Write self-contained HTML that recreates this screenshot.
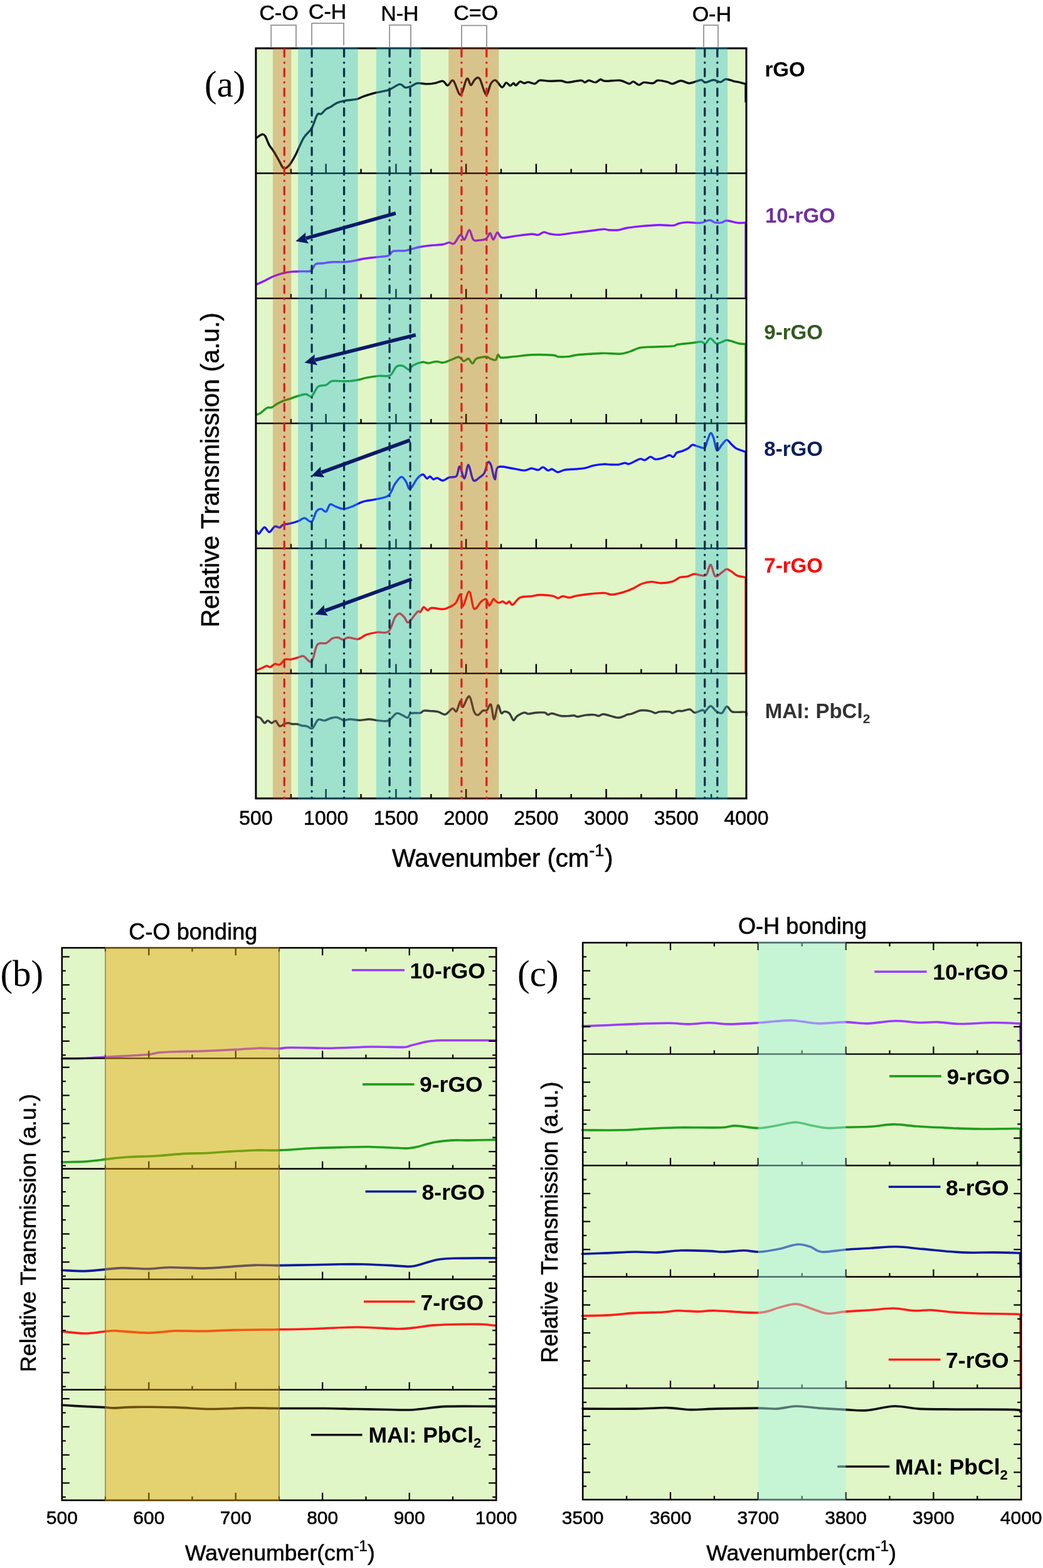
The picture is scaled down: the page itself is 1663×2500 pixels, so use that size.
<!DOCTYPE html>
<html><head><meta charset="utf-8"><title>FTIR spectra</title>
<style>html,body{margin:0;padding:0;background:#fff;} svg{display:block;}</style></head>
<body><svg width="1663" height="2500" viewBox="0 0 1663 2500">
<rect width="1663" height="2500" fill="#fff"/>
<rect x="408.0" y="77.0" width="782.0" height="1196.0" fill="#e1f6c6" />
<path d="M408.9,219.9 C410.4,219.0 415.5,214.7 417.9,214.3 C420.2,213.9 421.1,214.5 423.0,217.3 C424.9,220.2 427.2,227.6 429.3,231.4 C431.4,235.2 433.1,236.3 435.7,240.3 C438.2,244.3 441.8,250.9 444.6,255.6 C447.4,260.3 449.5,267.1 452.3,268.4 C455.1,269.7 458.0,266.9 461.2,263.3 C464.4,259.7 467.6,253.9 471.4,246.7 C475.2,239.5 479.9,226.9 484.2,219.9 C488.4,212.9 493.3,210.8 496.9,204.6 C500.5,198.4 503.3,186.7 505.9,182.9 C508.4,179.1 509.9,183.1 512.2,181.6 C514.5,180.1 517.3,175.9 519.9,174.0 C522.5,172.1 524.6,171.9 527.6,170.2 C530.6,168.5 533.5,165.5 537.8,163.8 C542.0,162.1 548.0,160.9 553.1,160.0 C558.2,159.1 564.1,159.2 568.4,158.2 C572.6,157.2 573.9,155.7 578.6,154.1 C583.3,152.5 589.6,150.3 596.4,148.5 C603.2,146.7 612.6,145.8 619.4,143.4 C626.2,141.1 632.7,135.1 637.2,134.4 C641.7,133.8 643.2,138.9 646.2,139.5 C649.2,140.1 651.9,138.9 655.1,137.8 C658.3,136.7 661.0,133.3 665.3,132.7 C669.5,132.0 675.9,133.9 680.6,133.9 C685.3,133.9 689.1,133.5 693.4,132.7 C697.6,131.9 702.7,128.7 706.1,129.3 C709.5,129.9 711.0,136.3 713.8,136.2 C716.6,136.1 719.3,126.1 722.7,128.6 C726.1,131.1 730.6,151.5 734.2,151.0 C737.8,150.5 741.6,128.1 744.4,125.5 C747.2,123.0 748.7,135.5 750.8,135.7 C752.9,135.9 754.8,128.5 757.1,126.8 C759.4,125.1 761.8,121.5 764.8,125.5 C767.8,129.5 772.0,149.7 775.0,151.0 C778.0,152.3 780.2,137.0 782.7,133.2 C785.2,129.4 787.3,127.1 790.3,128.1 C793.3,129.1 797.7,138.6 800.5,139.2 C803.3,139.8 804.8,132.3 807.0,131.9 C809.2,131.5 811.5,136.5 813.5,136.6 C815.5,136.7 817.3,132.8 818.8,132.7 C820.3,132.6 821.0,136.5 822.7,136.1 C824.4,135.7 827.0,130.7 829.2,130.1 C831.4,129.5 833.6,132.6 835.8,132.7 C838.0,132.8 839.5,130.8 842.3,130.9 C845.1,131.0 849.8,133.9 852.8,133.5 C855.8,133.1 856.7,128.9 860.6,128.2 C864.5,127.5 870.6,129.2 876.3,129.3 C882.0,129.4 889.8,128.5 894.6,128.8 C899.4,129.2 899.9,131.5 905.1,131.4 C910.3,131.3 921.4,128.2 926.0,128.2 C930.6,128.2 930.3,131.4 932.5,131.4 C934.7,131.4 936.2,128.2 939.0,128.2 C941.8,128.2 946.4,131.7 949.5,131.4 C952.6,131.2 954.8,127.0 957.4,126.7 C960.0,126.4 960.0,129.1 965.2,129.3 C970.4,129.6 982.4,127.5 988.7,128.2 C995.0,128.9 999.6,133.2 1003.1,133.5 C1006.6,133.8 1007.1,129.8 1009.7,130.1 C1012.3,130.4 1016.0,135.1 1018.8,135.3 C1021.6,135.5 1023.0,131.8 1026.7,131.4 C1030.4,131.0 1037.3,133.2 1041.0,132.7 C1044.7,132.2 1045.0,128.5 1048.9,128.2 C1052.8,127.9 1060.7,130.0 1064.6,130.9 C1068.5,131.8 1068.9,133.8 1072.4,133.5 C1075.9,133.2 1081.1,128.9 1085.5,128.8 C1089.9,128.7 1094.7,132.5 1098.6,132.7 C1102.5,132.9 1105.7,131.0 1109.0,130.1 C1112.3,129.2 1115.6,127.3 1118.2,127.5 C1120.8,127.7 1121.4,131.4 1124.7,131.4 C1128.0,131.4 1133.9,127.6 1137.8,127.5 C1141.7,127.4 1145.0,131.1 1148.3,130.9 C1151.6,130.7 1153.9,126.5 1157.4,126.2 C1160.9,125.9 1165.5,128.4 1169.2,129.3 C1172.9,130.2 1176.3,130.6 1179.6,131.4 C1182.9,132.2 1187.4,133.6 1189.0,134.0 L1189.0,162.0" fill="none" stroke="#101010" stroke-width="3.4" stroke-linejoin="round" stroke-linecap="round" />
<path d="M408.9,453.5 C410.8,452.6 415.9,450.5 420.4,448.4 C424.9,446.3 430.6,442.8 435.7,440.7 C440.8,438.6 445.9,436.9 451.0,435.6 C456.1,434.3 460.8,433.6 466.3,433.1 C471.8,432.6 479.3,432.8 484.2,432.6 C489.1,432.4 492.5,433.7 495.7,431.8 C498.9,429.9 500.1,423.1 503.3,421.1 C506.5,419.1 510.3,420.4 514.8,419.8 C519.3,419.2 524.6,418.1 530.1,417.8 C535.6,417.5 542.5,418.1 548.0,417.8 C553.5,417.5 558.2,416.9 563.3,416.0 C568.4,415.1 572.6,413.7 578.6,412.7 C584.6,411.7 592.2,411.0 599.0,410.1 C605.8,409.2 614.7,409.2 619.4,407.6 C624.1,406.0 622.8,401.7 627.0,400.4 C631.2,399.1 640.2,400.4 644.9,399.9 C649.6,399.4 650.9,398.4 655.1,397.3 C659.4,396.2 665.3,394.5 670.4,393.5 C675.5,392.5 679.8,392.1 685.7,391.5 C691.7,390.9 701.0,390.5 706.1,389.7 C711.2,388.9 713.3,386.8 716.3,386.6 C719.3,386.4 721.0,390.4 724.0,388.4 C727.0,386.4 731.4,375.5 734.2,374.4 C737.0,373.3 738.3,383.3 740.6,382.0 C742.9,380.7 745.9,366.7 748.2,366.7 C750.5,366.7 752.3,379.2 754.6,382.0 C756.9,384.8 758.8,383.5 762.2,383.3 C765.6,383.1 771.8,382.7 775.0,380.8 C778.2,378.9 779.5,371.6 781.4,371.8 C783.3,372.0 784.5,382.2 786.5,382.0 C788.5,381.8 790.8,371.1 793.1,370.6 C795.4,370.1 795.8,378.0 800.5,379.0 C805.2,380.0 813.6,377.4 821.4,376.4 C829.2,375.4 841.4,373.5 847.5,373.2 C853.6,372.9 854.7,375.0 858.0,374.5 C861.3,374.0 864.1,370.4 867.1,370.1 C870.1,369.8 872.1,372.0 876.3,372.7 C880.4,373.4 885.5,374.6 892.0,374.3 C898.5,374.0 907.2,372.2 915.5,371.1 C923.8,370.1 933.9,368.9 941.7,368.0 C949.6,367.1 957.8,365.6 962.6,365.4 C967.4,365.2 966.5,366.5 970.4,366.7 C974.3,366.9 981.3,367.2 986.1,366.7 C990.9,366.2 993.5,364.5 999.2,363.5 C1004.9,362.5 1011.4,361.7 1020.1,360.9 C1028.8,360.1 1042.8,359.0 1051.5,358.8 C1060.2,358.6 1067.2,360.0 1072.4,359.6 C1077.6,359.2 1079.0,357.1 1082.9,356.2 C1086.8,355.3 1091.7,354.5 1096.0,354.4 C1100.3,354.3 1105.1,355.3 1109.0,355.4 C1112.9,355.5 1115.8,355.6 1119.5,354.9 C1123.2,354.2 1127.8,351.0 1131.3,351.0 C1134.8,351.0 1137.1,354.2 1140.4,354.9 C1143.7,355.5 1147.9,355.4 1150.9,354.9 C1154.0,354.4 1154.4,351.7 1158.7,351.8 C1163.0,351.9 1172.0,354.9 1177.0,355.4 C1182.0,355.9 1187.0,355.0 1189.0,354.9 L1189.0,475.0" fill="none" stroke="#8a1cff" stroke-width="3.4" stroke-linejoin="round" stroke-linecap="round" />
<path d="M408.9,661.1 C410.0,660.7 412.5,660.4 415.3,658.6 C418.1,656.8 422.5,651.9 425.5,650.4 C428.5,648.9 430.6,650.6 433.2,649.6 C435.8,648.6 437.8,646.2 440.8,644.5 C443.8,642.8 447.6,640.8 451.0,639.4 C454.4,638.0 456.9,637.5 461.2,636.1 C465.4,634.7 472.0,632.3 476.5,631.0 C481.0,629.7 484.6,628.4 488.0,628.5 C491.4,628.6 493.7,633.8 496.9,631.8 C500.1,629.8 503.3,619.5 507.1,616.5 C510.9,613.5 516.3,615.4 519.9,613.9 C523.5,612.4 525.0,608.6 528.8,607.6 C532.6,606.6 538.0,607.6 542.9,607.6 C547.8,607.6 553.1,608.0 558.2,607.6 C563.3,607.2 569.2,605.9 573.5,605.0 C577.8,604.1 578.6,603.3 583.7,602.4 C588.8,601.5 597.7,600.0 604.1,599.4 C610.5,598.8 617.2,601.1 621.9,598.6 C626.6,596.1 628.7,587.2 632.1,584.6 C635.5,582.0 638.9,582.4 642.3,583.3 C645.7,584.1 650.0,589.7 652.6,589.7 C655.2,589.7 654.3,585.3 657.7,583.3 C661.1,581.2 668.8,578.1 673.0,577.4 C677.2,576.7 679.4,579.2 683.2,579.0 C687.0,578.8 692.1,576.5 695.9,576.4 C699.7,576.3 702.3,578.6 706.1,578.2 C709.9,577.8 714.6,575.4 718.9,573.9 C723.1,572.4 728.2,569.0 731.6,569.3 C735.0,569.6 736.8,575.3 739.3,575.7 C741.8,576.1 744.6,571.2 746.9,571.8 C749.2,572.4 751.2,579.5 753.3,579.5 C755.4,579.5 756.1,573.6 759.7,571.8 C763.3,570.0 771.2,568.7 775.0,568.8 C778.8,568.9 780.2,571.4 782.7,572.3 C785.2,573.1 788.4,575.0 790.3,573.9 C792.2,572.8 792.6,566.1 794.1,565.5 C795.6,564.9 794.7,569.7 799.2,570.2 C803.8,570.7 813.4,569.1 821.4,568.4 C829.4,567.7 837.5,566.1 847.5,565.8 C857.5,565.4 874.3,565.8 881.5,566.3 C888.7,566.8 886.3,568.5 890.7,568.9 C895.1,569.2 902.7,568.9 907.7,568.4 C912.7,567.9 912.1,566.7 920.8,565.8 C929.5,564.9 948.7,563.5 960.0,563.2 C971.3,562.9 981.3,564.7 988.7,564.2 C996.1,563.8 999.2,562.1 1004.4,560.5 C1009.6,558.9 1014.4,555.7 1020.1,554.5 C1025.8,553.3 1029.7,553.6 1038.4,553.2 C1047.1,552.8 1065.4,552.5 1072.4,551.9 C1079.4,551.2 1075.1,550.2 1080.3,549.3 C1085.5,548.4 1097.5,547.4 1103.8,546.7 C1110.1,546.0 1114.7,544.7 1118.2,544.9 C1121.7,545.1 1122.3,548.9 1124.7,548.0 C1127.1,547.1 1129.8,539.7 1132.6,539.6 C1135.4,539.5 1138.7,546.5 1141.7,547.5 C1144.8,548.5 1148.1,546.3 1150.9,545.4 C1153.7,544.5 1155.7,542.3 1158.7,542.2 C1161.8,542.1 1165.7,543.9 1169.2,544.9 C1172.7,545.9 1176.3,547.4 1179.6,548.0 C1182.9,548.6 1187.4,548.4 1189.0,548.5 L1189.0,674.0" fill="none" stroke="#1d9a1d" stroke-width="3.4" stroke-linejoin="round" stroke-linecap="round" />
<path d="M408.9,845.8 C409.5,846.6 410.7,851.8 412.8,850.9 C414.9,850.0 418.9,841.1 421.7,840.7 C424.4,840.3 426.5,848.6 429.3,848.4 C432.1,848.2 435.5,840.6 438.3,839.4 C441.1,838.2 443.8,841.6 445.9,841.2 C448.0,840.8 448.0,838.0 451.0,836.9 C454.0,835.8 459.6,835.4 463.8,834.3 C468.1,833.2 472.9,831.9 476.5,830.5 C480.1,829.1 482.1,825.7 485.5,825.9 C488.9,826.1 493.7,833.6 496.9,831.8 C500.1,830.0 502.1,818.6 504.6,815.2 C507.2,811.8 509.7,811.3 512.2,811.4 C514.8,811.5 517.5,816.9 519.9,815.7 C522.2,814.5 523.8,805.6 526.3,804.2 C528.8,802.9 531.6,806.4 535.2,807.6 C538.8,808.8 543.3,811.5 548.0,811.4 C552.7,811.3 558.2,808.7 563.3,806.8 C568.4,804.9 572.6,801.7 578.6,799.9 C584.6,798.1 592.2,797.7 599.0,796.1 C605.8,794.5 614.3,794.2 619.4,790.2 C624.5,786.2 626.2,776.8 629.6,771.8 C633.0,766.8 636.8,761.0 639.8,760.4 C642.8,759.8 645.1,764.8 647.4,768.0 C649.7,771.2 650.8,780.4 653.8,779.5 C656.8,778.6 661.9,766.7 665.3,762.9 C668.7,759.1 671.7,756.5 674.2,756.5 C676.8,756.5 678.7,762.4 680.6,762.9 C682.5,763.4 684.0,759.4 685.7,759.6 C687.4,759.8 688.9,763.8 690.8,764.2 C692.7,764.6 694.7,761.8 697.2,762.1 C699.8,762.4 702.9,766.4 706.1,766.2 C709.3,766.0 712.7,762.3 716.3,761.1 C719.9,759.9 725.0,762.0 727.8,759.1 C730.6,756.2 730.8,743.2 732.9,743.8 C735.0,744.4 738.3,763.3 740.6,762.9 C742.9,762.5 744.6,740.8 746.9,741.2 C749.2,741.6 751.6,762.2 754.6,765.5 C757.6,768.8 761.8,763.0 764.8,761.1 C767.8,759.2 770.3,758.0 772.4,754.0 C774.5,750.0 775.9,739.5 777.6,737.4 C779.3,735.3 780.8,736.7 782.7,741.2 C784.6,745.7 787.1,763.6 789.0,764.2 C790.9,764.8 789.4,747.8 793.9,744.9 C798.4,742.0 809.2,745.8 816.2,746.7 C823.2,747.6 830.6,750.1 835.8,750.1 C841.0,750.1 843.8,746.8 847.5,746.7 C851.2,746.6 855.0,749.6 858.0,749.3 C861.0,749.0 863.2,744.8 865.8,744.9 C868.4,745.0 871.3,749.6 873.7,750.1 C876.1,750.6 877.6,747.6 880.2,748.0 C882.8,748.4 886.1,752.5 889.4,752.7 C892.7,752.9 895.4,750.1 899.8,749.3 C904.1,748.5 910.3,748.4 915.5,748.0 C920.7,747.6 926.0,747.7 931.2,746.7 C936.4,745.7 941.7,743.3 946.9,742.2 C952.1,741.1 958.2,740.4 962.6,740.1 C967.0,739.9 969.2,740.6 973.1,740.7 C977.0,740.8 982.2,741.1 986.1,740.7 C990.0,740.3 993.8,738.3 996.6,738.1 C999.4,737.9 999.2,740.7 1003.1,739.6 C1007.0,738.5 1016.0,732.8 1020.1,731.8 C1024.2,730.8 1025.2,734.2 1028.0,733.6 C1030.8,733.0 1034.3,728.6 1037.1,728.4 C1039.9,728.2 1041.7,732.0 1045.0,732.3 C1048.3,732.6 1053.0,731.3 1056.7,730.2 C1060.4,729.1 1064.4,726.1 1067.2,725.8 C1070.0,725.5 1071.7,729.1 1073.7,728.4 C1075.7,727.7 1076.6,723.3 1079.0,721.8 C1081.4,720.3 1085.0,720.4 1088.1,719.2 C1091.1,718.0 1094.7,716.4 1097.3,714.8 C1099.9,713.1 1101.4,709.9 1103.8,709.3 C1106.2,708.7 1108.4,710.6 1111.7,711.4 C1115.0,712.2 1120.7,715.6 1123.4,714.0 C1126.1,712.4 1126.4,705.9 1128.0,702.0 C1129.6,698.1 1131.5,691.1 1133.1,690.5 C1134.7,689.9 1136.1,693.7 1137.8,698.3 C1139.5,702.9 1140.8,716.1 1143.0,717.9 C1145.2,719.7 1148.3,712.0 1150.9,709.3 C1153.5,706.5 1156.1,701.5 1158.7,701.4 C1161.3,701.3 1164.0,706.5 1166.6,708.8 C1169.2,711.1 1170.7,713.3 1174.4,715.3 C1178.1,717.2 1186.6,719.6 1189.0,720.5 L1189.0,874.0" fill="none" stroke="#1414ff" stroke-width="3.4" stroke-linejoin="round" stroke-linecap="round" />
<path d="M408.9,1068.8 C410.4,1068.2 415.1,1066.2 417.9,1065.0 C420.7,1063.8 423.4,1061.8 425.5,1061.6 C427.6,1061.4 428.5,1064.2 430.6,1063.7 C432.7,1063.2 435.8,1059.2 438.3,1058.6 C440.9,1057.9 443.1,1061.0 445.9,1059.8 C448.6,1058.6 451.8,1052.8 454.8,1051.4 C457.8,1050.0 460.2,1052.0 463.8,1051.4 C467.4,1050.8 473.1,1048.8 476.5,1047.9 C479.9,1047.1 480.8,1045.2 484.2,1046.3 C487.6,1047.4 493.3,1057.8 496.9,1054.7 C500.5,1051.7 502.1,1032.9 505.9,1028.0 C509.7,1023.1 515.9,1027.1 519.9,1025.4 C523.9,1023.7 526.9,1019.3 530.1,1017.8 C533.3,1016.3 536.2,1016.2 539.0,1016.5 C541.8,1016.8 543.9,1019.8 546.7,1019.8 C549.5,1019.8 551.6,1016.6 555.6,1016.5 C559.6,1016.4 566.2,1019.7 570.9,1019.0 C575.6,1018.3 578.6,1013.9 583.7,1012.1 C588.8,1010.3 595.5,1009.0 601.5,1008.1 C607.5,1007.2 614.7,1010.9 619.4,1007.0 C624.1,1003.1 626.6,989.4 629.6,984.6 C632.6,979.8 634.7,978.2 637.2,978.2 C639.8,978.2 642.5,982.3 644.9,984.6 C647.2,986.9 647.9,993.7 651.3,992.2 C654.7,990.7 662.1,978.5 665.3,975.7 C668.5,973.0 668.7,977.0 670.4,975.7 C672.1,974.4 673.6,968.4 675.5,968.0 C677.4,967.6 679.8,972.9 681.9,973.1 C684.0,973.3 684.3,969.6 688.3,969.3 C692.3,969.0 701.4,971.5 706.1,971.3 C710.8,971.1 712.9,969.6 716.3,968.0 C719.7,966.4 723.5,965.0 726.5,961.6 C729.5,958.2 732.3,946.8 734.2,947.6 C736.1,948.5 735.7,967.4 738.0,966.7 C740.3,966.0 745.2,942.6 748.2,943.3 C751.2,943.9 752.7,968.0 755.9,970.6 C759.1,973.2 764.1,961.7 767.3,959.1 C770.5,956.5 772.9,954.2 775.0,955.3 C777.1,956.4 778.2,965.5 780.1,965.5 C782.0,965.5 784.9,956.6 786.5,955.3 C788.1,954.0 788.5,956.9 790.0,957.9 C791.5,958.9 793.2,960.9 795.2,961.1 C797.2,961.3 799.8,958.8 801.8,959.0 C803.8,959.2 805.3,962.4 807.0,962.4 C808.7,962.4 810.5,958.7 812.2,959.0 C814.0,959.3 814.7,965.2 817.5,964.2 C820.3,963.2 824.2,955.0 829.2,952.7 C834.2,950.4 842.3,951.3 847.5,950.6 C852.7,949.9 854.9,948.6 860.6,948.5 C866.3,948.4 876.7,949.2 881.5,950.1 C886.3,951.0 886.8,953.6 889.4,953.7 C892.0,953.8 894.2,950.8 897.2,950.6 C900.2,950.4 904.2,952.8 907.7,952.7 C911.2,952.6 913.3,951.0 918.1,950.1 C922.9,949.2 929.0,948.3 936.4,947.5 C943.8,946.7 956.0,945.3 962.6,945.4 C969.2,945.5 970.5,948.2 975.7,948.0 C980.9,947.8 988.3,945.8 994.0,944.1 C999.7,942.5 1004.9,940.3 1009.7,938.1 C1014.5,935.9 1017.9,932.8 1022.7,931.0 C1027.5,929.2 1033.2,927.8 1038.4,927.6 C1043.6,927.4 1048.4,929.8 1054.1,929.7 C1059.8,929.6 1067.4,928.6 1072.4,927.1 C1077.4,925.6 1080.3,921.8 1084.2,920.5 C1088.1,919.2 1092.3,920.1 1096.0,919.2 C1099.7,918.3 1102.9,915.6 1106.4,915.3 C1109.9,914.9 1113.6,916.9 1116.9,917.1 C1120.2,917.3 1123.3,919.4 1126.0,916.6 C1128.7,913.8 1130.7,900.0 1133.1,900.4 C1135.5,900.8 1137.4,916.7 1140.4,918.7 C1143.4,920.8 1147.9,914.6 1150.9,912.7 C1154.0,910.8 1156.1,907.7 1158.7,907.5 C1161.3,907.3 1163.8,909.7 1166.6,911.4 C1169.4,913.1 1172.0,916.4 1175.7,917.9 C1179.4,919.4 1186.8,920.1 1189.0,920.5 L1189.0,1073.0" fill="none" stroke="#ff1414" stroke-width="3.4" stroke-linejoin="round" stroke-linecap="round" />
<path d="M408.9,1142.5 C410.0,1142.9 413.2,1143.3 415.3,1145.0 C417.4,1146.7 419.8,1152.0 421.7,1152.7 C423.6,1153.4 424.9,1148.9 426.8,1148.9 C428.7,1148.9 431.1,1152.6 433.2,1152.7 C435.3,1152.8 437.4,1148.6 439.5,1149.4 C441.6,1150.2 443.5,1157.0 445.9,1157.8 C448.2,1158.6 451.3,1154.8 453.6,1154.0 C455.9,1153.2 457.8,1152.6 459.9,1152.7 C462.0,1152.8 463.9,1154.2 466.3,1154.5 C468.7,1154.8 471.4,1154.1 474.0,1154.5 C476.6,1154.9 479.1,1156.5 481.6,1157.0 C484.2,1157.5 486.5,1157.1 489.3,1157.8 C492.1,1158.5 495.2,1162.8 498.2,1161.1 C501.2,1159.4 503.9,1149.6 507.1,1147.6 C510.3,1145.6 513.9,1149.3 517.3,1148.9 C520.7,1148.5 524.2,1145.8 527.6,1145.0 C531.0,1144.2 534.4,1143.2 537.8,1143.8 C541.2,1144.4 544.6,1147.9 548.0,1148.4 C551.4,1148.9 554.0,1146.8 558.2,1146.8 C562.5,1146.8 568.4,1148.4 573.5,1148.4 C578.6,1148.4 583.7,1146.7 588.8,1146.8 C593.9,1146.9 599.0,1148.6 604.1,1148.9 C609.2,1149.2 614.7,1150.8 619.4,1148.9 C624.1,1147.0 628.3,1138.8 632.1,1137.4 C635.9,1136.0 639.3,1139.6 642.3,1140.7 C645.3,1141.8 647.9,1144.8 650.0,1144.3 C652.1,1143.8 651.7,1138.7 655.1,1137.4 C658.5,1136.1 667.0,1137.3 670.4,1136.6 C673.8,1135.9 673.0,1133.6 675.5,1133.1 C678.0,1132.6 681.9,1133.3 685.7,1133.6 C689.5,1133.9 694.5,1133.9 698.5,1134.8 C702.5,1135.7 706.1,1140.0 709.9,1139.2 C713.7,1138.4 718.4,1130.6 721.4,1129.7 C724.4,1128.8 725.7,1136.1 727.8,1134.1 C729.9,1132.1 732.5,1118.9 734.2,1117.8 C735.9,1116.7 735.7,1128.5 738.0,1127.2 C740.3,1125.9 745.2,1108.8 748.2,1110.1 C751.2,1111.4 753.6,1129.8 755.9,1134.8 C758.2,1139.8 759.9,1140.3 762.2,1140.0 C764.5,1139.7 767.5,1134.4 769.9,1133.1 C772.2,1131.8 774.2,1133.9 776.3,1132.3 C778.4,1130.7 780.8,1121.0 782.7,1123.4 C784.6,1125.8 785.9,1146.6 787.8,1146.8 C789.7,1147.0 792.0,1126.1 793.9,1124.5 C795.8,1122.9 797.5,1135.3 799.2,1137.0 C801.0,1138.7 802.2,1134.3 804.4,1134.4 C806.6,1134.5 809.8,1135.2 812.2,1137.5 C814.6,1139.8 816.8,1147.7 818.8,1148.5 C820.8,1149.3 821.2,1144.2 824.0,1142.2 C826.8,1140.2 832.8,1136.9 835.8,1136.2 C838.8,1135.5 839.0,1138.1 842.3,1138.1 C845.6,1138.1 851.0,1136.5 855.4,1136.2 C859.8,1135.9 865.5,1135.6 868.5,1136.2 C871.5,1136.8 871.8,1139.4 873.7,1139.6 C875.7,1139.8 876.7,1137.2 880.2,1137.5 C883.7,1137.8 890.0,1140.8 894.6,1141.5 C899.2,1142.2 904.2,1141.6 907.7,1141.5 C911.2,1141.4 913.3,1140.5 915.5,1140.7 C917.7,1140.9 917.8,1142.9 920.8,1142.8 C923.8,1142.7 929.4,1140.6 933.8,1140.1 C938.1,1139.6 943.4,1139.4 946.9,1139.6 C950.4,1139.8 952.1,1141.6 954.7,1141.5 C957.3,1141.4 957.8,1138.4 962.6,1138.8 C967.4,1139.2 978.3,1143.5 983.5,1144.1 C988.7,1144.7 991.4,1143.0 994.0,1142.2 C996.6,1141.5 997.0,1140.3 999.2,1139.6 C1001.4,1138.9 1003.3,1139.2 1007.0,1138.1 C1010.7,1137.0 1016.6,1133.5 1021.4,1132.8 C1026.2,1132.0 1031.9,1132.9 1035.8,1133.6 C1039.7,1134.3 1042.4,1136.8 1045.0,1137.0 C1047.6,1137.2 1047.8,1135.2 1051.5,1134.9 C1055.2,1134.6 1063.7,1134.6 1067.2,1134.9 C1070.7,1135.2 1070.2,1137.2 1072.4,1137.0 C1074.6,1136.8 1077.7,1134.2 1080.3,1133.6 C1082.9,1133.0 1084.8,1134.0 1088.1,1133.6 C1091.4,1133.2 1096.6,1130.6 1099.9,1131.0 C1103.2,1131.4 1104.4,1136.0 1107.7,1136.2 C1111.0,1136.4 1116.7,1132.7 1119.5,1132.3 C1122.3,1131.9 1122.4,1134.7 1124.7,1133.6 C1127.0,1132.5 1130.3,1125.8 1133.1,1125.8 C1135.9,1125.8 1138.7,1131.7 1141.7,1133.6 C1144.7,1135.5 1148.1,1138.2 1150.9,1137.0 C1153.7,1135.8 1156.1,1126.9 1158.7,1126.5 C1161.3,1126.1 1163.8,1132.9 1166.6,1134.4 C1169.4,1135.9 1172.0,1135.2 1175.7,1135.4 C1179.4,1135.6 1186.6,1134.5 1189.0,1135.4 C1191.4,1136.3 1189.8,1140.1 1190.0,1141.0" fill="none" stroke="#3c3c3c" stroke-width="3.4" stroke-linejoin="round" stroke-linecap="round" />
<line x1="408.0" y1="276.3" x2="1190.0" y2="276.3" stroke="#000" stroke-width="2.6" />
<line x1="408.0" y1="475.7" x2="1190.0" y2="475.7" stroke="#000" stroke-width="2.6" />
<line x1="408.0" y1="675.0" x2="1190.0" y2="675.0" stroke="#000" stroke-width="2.6" />
<line x1="408.0" y1="874.3" x2="1190.0" y2="874.3" stroke="#000" stroke-width="2.6" />
<line x1="408.0" y1="1073.7" x2="1190.0" y2="1073.7" stroke="#000" stroke-width="2.6" />
<rect x="408" y="77" width="782" height="1196" fill="none" stroke="#000" stroke-width="3"/>
<line x1="463.9" y1="276.3" x2="463.9" y2="269.3" stroke="#000" stroke-width="2.4" />
<line x1="519.7" y1="276.3" x2="519.7" y2="261.3" stroke="#000" stroke-width="2.4" />
<line x1="575.6" y1="276.3" x2="575.6" y2="269.3" stroke="#000" stroke-width="2.4" />
<line x1="631.4" y1="276.3" x2="631.4" y2="261.3" stroke="#000" stroke-width="2.4" />
<line x1="687.3" y1="276.3" x2="687.3" y2="269.3" stroke="#000" stroke-width="2.4" />
<line x1="743.1" y1="276.3" x2="743.1" y2="261.3" stroke="#000" stroke-width="2.4" />
<line x1="799.0" y1="276.3" x2="799.0" y2="269.3" stroke="#000" stroke-width="2.4" />
<line x1="854.9" y1="276.3" x2="854.9" y2="261.3" stroke="#000" stroke-width="2.4" />
<line x1="910.7" y1="276.3" x2="910.7" y2="269.3" stroke="#000" stroke-width="2.4" />
<line x1="966.6" y1="276.3" x2="966.6" y2="261.3" stroke="#000" stroke-width="2.4" />
<line x1="1022.4" y1="276.3" x2="1022.4" y2="269.3" stroke="#000" stroke-width="2.4" />
<line x1="1078.3" y1="276.3" x2="1078.3" y2="261.3" stroke="#000" stroke-width="2.4" />
<line x1="1134.1" y1="276.3" x2="1134.1" y2="269.3" stroke="#000" stroke-width="2.4" />
<line x1="463.9" y1="475.7" x2="463.9" y2="468.7" stroke="#000" stroke-width="2.4" />
<line x1="519.7" y1="475.7" x2="519.7" y2="460.7" stroke="#000" stroke-width="2.4" />
<line x1="575.6" y1="475.7" x2="575.6" y2="468.7" stroke="#000" stroke-width="2.4" />
<line x1="631.4" y1="475.7" x2="631.4" y2="460.7" stroke="#000" stroke-width="2.4" />
<line x1="687.3" y1="475.7" x2="687.3" y2="468.7" stroke="#000" stroke-width="2.4" />
<line x1="743.1" y1="475.7" x2="743.1" y2="460.7" stroke="#000" stroke-width="2.4" />
<line x1="799.0" y1="475.7" x2="799.0" y2="468.7" stroke="#000" stroke-width="2.4" />
<line x1="854.9" y1="475.7" x2="854.9" y2="460.7" stroke="#000" stroke-width="2.4" />
<line x1="910.7" y1="475.7" x2="910.7" y2="468.7" stroke="#000" stroke-width="2.4" />
<line x1="966.6" y1="475.7" x2="966.6" y2="460.7" stroke="#000" stroke-width="2.4" />
<line x1="1022.4" y1="475.7" x2="1022.4" y2="468.7" stroke="#000" stroke-width="2.4" />
<line x1="1078.3" y1="475.7" x2="1078.3" y2="460.7" stroke="#000" stroke-width="2.4" />
<line x1="1134.1" y1="475.7" x2="1134.1" y2="468.7" stroke="#000" stroke-width="2.4" />
<line x1="463.9" y1="675.0" x2="463.9" y2="668.0" stroke="#000" stroke-width="2.4" />
<line x1="519.7" y1="675.0" x2="519.7" y2="660.0" stroke="#000" stroke-width="2.4" />
<line x1="575.6" y1="675.0" x2="575.6" y2="668.0" stroke="#000" stroke-width="2.4" />
<line x1="631.4" y1="675.0" x2="631.4" y2="660.0" stroke="#000" stroke-width="2.4" />
<line x1="687.3" y1="675.0" x2="687.3" y2="668.0" stroke="#000" stroke-width="2.4" />
<line x1="743.1" y1="675.0" x2="743.1" y2="660.0" stroke="#000" stroke-width="2.4" />
<line x1="799.0" y1="675.0" x2="799.0" y2="668.0" stroke="#000" stroke-width="2.4" />
<line x1="854.9" y1="675.0" x2="854.9" y2="660.0" stroke="#000" stroke-width="2.4" />
<line x1="910.7" y1="675.0" x2="910.7" y2="668.0" stroke="#000" stroke-width="2.4" />
<line x1="966.6" y1="675.0" x2="966.6" y2="660.0" stroke="#000" stroke-width="2.4" />
<line x1="1022.4" y1="675.0" x2="1022.4" y2="668.0" stroke="#000" stroke-width="2.4" />
<line x1="1078.3" y1="675.0" x2="1078.3" y2="660.0" stroke="#000" stroke-width="2.4" />
<line x1="1134.1" y1="675.0" x2="1134.1" y2="668.0" stroke="#000" stroke-width="2.4" />
<line x1="463.9" y1="874.3" x2="463.9" y2="867.3" stroke="#000" stroke-width="2.4" />
<line x1="519.7" y1="874.3" x2="519.7" y2="859.3" stroke="#000" stroke-width="2.4" />
<line x1="575.6" y1="874.3" x2="575.6" y2="867.3" stroke="#000" stroke-width="2.4" />
<line x1="631.4" y1="874.3" x2="631.4" y2="859.3" stroke="#000" stroke-width="2.4" />
<line x1="687.3" y1="874.3" x2="687.3" y2="867.3" stroke="#000" stroke-width="2.4" />
<line x1="743.1" y1="874.3" x2="743.1" y2="859.3" stroke="#000" stroke-width="2.4" />
<line x1="799.0" y1="874.3" x2="799.0" y2="867.3" stroke="#000" stroke-width="2.4" />
<line x1="854.9" y1="874.3" x2="854.9" y2="859.3" stroke="#000" stroke-width="2.4" />
<line x1="910.7" y1="874.3" x2="910.7" y2="867.3" stroke="#000" stroke-width="2.4" />
<line x1="966.6" y1="874.3" x2="966.6" y2="859.3" stroke="#000" stroke-width="2.4" />
<line x1="1022.4" y1="874.3" x2="1022.4" y2="867.3" stroke="#000" stroke-width="2.4" />
<line x1="1078.3" y1="874.3" x2="1078.3" y2="859.3" stroke="#000" stroke-width="2.4" />
<line x1="1134.1" y1="874.3" x2="1134.1" y2="867.3" stroke="#000" stroke-width="2.4" />
<line x1="463.9" y1="1073.7" x2="463.9" y2="1066.7" stroke="#000" stroke-width="2.4" />
<line x1="519.7" y1="1073.7" x2="519.7" y2="1058.7" stroke="#000" stroke-width="2.4" />
<line x1="575.6" y1="1073.7" x2="575.6" y2="1066.7" stroke="#000" stroke-width="2.4" />
<line x1="631.4" y1="1073.7" x2="631.4" y2="1058.7" stroke="#000" stroke-width="2.4" />
<line x1="687.3" y1="1073.7" x2="687.3" y2="1066.7" stroke="#000" stroke-width="2.4" />
<line x1="743.1" y1="1073.7" x2="743.1" y2="1058.7" stroke="#000" stroke-width="2.4" />
<line x1="799.0" y1="1073.7" x2="799.0" y2="1066.7" stroke="#000" stroke-width="2.4" />
<line x1="854.9" y1="1073.7" x2="854.9" y2="1058.7" stroke="#000" stroke-width="2.4" />
<line x1="910.7" y1="1073.7" x2="910.7" y2="1066.7" stroke="#000" stroke-width="2.4" />
<line x1="966.6" y1="1073.7" x2="966.6" y2="1058.7" stroke="#000" stroke-width="2.4" />
<line x1="1022.4" y1="1073.7" x2="1022.4" y2="1066.7" stroke="#000" stroke-width="2.4" />
<line x1="1078.3" y1="1073.7" x2="1078.3" y2="1058.7" stroke="#000" stroke-width="2.4" />
<line x1="1134.1" y1="1073.7" x2="1134.1" y2="1066.7" stroke="#000" stroke-width="2.4" />
<line x1="463.9" y1="1273.0" x2="463.9" y2="1266.0" stroke="#000" stroke-width="2.4" />
<line x1="519.7" y1="1273.0" x2="519.7" y2="1258.0" stroke="#000" stroke-width="2.4" />
<line x1="575.6" y1="1273.0" x2="575.6" y2="1266.0" stroke="#000" stroke-width="2.4" />
<line x1="631.4" y1="1273.0" x2="631.4" y2="1258.0" stroke="#000" stroke-width="2.4" />
<line x1="687.3" y1="1273.0" x2="687.3" y2="1266.0" stroke="#000" stroke-width="2.4" />
<line x1="743.1" y1="1273.0" x2="743.1" y2="1258.0" stroke="#000" stroke-width="2.4" />
<line x1="799.0" y1="1273.0" x2="799.0" y2="1266.0" stroke="#000" stroke-width="2.4" />
<line x1="854.9" y1="1273.0" x2="854.9" y2="1258.0" stroke="#000" stroke-width="2.4" />
<line x1="910.7" y1="1273.0" x2="910.7" y2="1266.0" stroke="#000" stroke-width="2.4" />
<line x1="966.6" y1="1273.0" x2="966.6" y2="1258.0" stroke="#000" stroke-width="2.4" />
<line x1="1022.4" y1="1273.0" x2="1022.4" y2="1266.0" stroke="#000" stroke-width="2.4" />
<line x1="1078.3" y1="1273.0" x2="1078.3" y2="1258.0" stroke="#000" stroke-width="2.4" />
<line x1="1134.1" y1="1273.0" x2="1134.1" y2="1266.0" stroke="#000" stroke-width="2.4" />
<rect x="435.1" y="75.5" width="29.3" height="1199.0" fill="#c54f03" fill-opacity="0.3"/>
<rect x="475.2" y="75.5" width="95.5" height="1199.0" fill="#1cbbdd" fill-opacity="0.34"/>
<rect x="599.9" y="75.5" width="70.7" height="1199.0" fill="#1cbbdd" fill-opacity="0.34"/>
<rect x="715.2" y="75.5" width="80.0" height="1199.0" fill="#c54f03" fill-opacity="0.3"/>
<rect x="1108.7" y="75.5" width="51.3" height="1199.0" fill="#1cbbdd" fill-opacity="0.34"/>
<line x1="453.3" y1="77.5" x2="453.3" y2="1272.5" stroke="#e0201a" stroke-width="3.3" stroke-dasharray="11.8 9.55 0.5 9.55" stroke-dashoffset="-0.85" stroke-linecap="round"/>
<line x1="735.9" y1="77.5" x2="735.9" y2="1272.5" stroke="#e0201a" stroke-width="3.3" stroke-dasharray="11.8 9.55 0.5 9.55" stroke-dashoffset="-0.85" stroke-linecap="round"/>
<line x1="775.8" y1="77.5" x2="775.8" y2="1272.5" stroke="#e0201a" stroke-width="3.3" stroke-dasharray="11.8 9.55 0.5 9.55" stroke-dashoffset="-0.85" stroke-linecap="round"/>
<line x1="497.1" y1="77.5" x2="497.1" y2="1272.5" stroke="#06304a" stroke-width="3.3" stroke-dasharray="11.8 9.55 0.5 9.55" stroke-dashoffset="-0.85" stroke-linecap="round"/>
<line x1="548.6" y1="77.5" x2="548.6" y2="1272.5" stroke="#06304a" stroke-width="3.3" stroke-dasharray="11.8 9.55 0.5 9.55" stroke-dashoffset="-0.85" stroke-linecap="round"/>
<line x1="621.1" y1="77.5" x2="621.1" y2="1272.5" stroke="#06304a" stroke-width="3.3" stroke-dasharray="11.8 9.55 0.5 9.55" stroke-dashoffset="-0.85" stroke-linecap="round"/>
<line x1="654.1" y1="77.5" x2="654.1" y2="1272.5" stroke="#06304a" stroke-width="3.3" stroke-dasharray="11.8 9.55 0.5 9.55" stroke-dashoffset="-0.85" stroke-linecap="round"/>
<line x1="1123.7" y1="77.5" x2="1123.7" y2="1272.5" stroke="#06304a" stroke-width="3.3" stroke-dasharray="11.8 9.55 0.5 9.55" stroke-dashoffset="-0.85" stroke-linecap="round"/>
<line x1="1143.8" y1="77.5" x2="1143.8" y2="1272.5" stroke="#06304a" stroke-width="3.3" stroke-dasharray="11.8 9.55 0.5 9.55" stroke-dashoffset="-0.85" stroke-linecap="round"/>
<line x1="630.9" y1="340.0" x2="487.8" y2="380.0" stroke="#0a1a66" stroke-width="5.7" />
<polygon points="471.4,384.6 487.3,370.8 487.3,380.2 492.1,388.2" fill="#0a1a66"/>
<line x1="662.8" y1="534.1" x2="502.0" y2="574.1" stroke="#0a1a66" stroke-width="5.7" />
<polygon points="485.5,578.2 501.8,564.9 501.5,574.2 506.1,582.3" fill="#0a1a66"/>
<line x1="653.8" y1="701.7" x2="512.4" y2="753.3" stroke="#0a1a66" stroke-width="5.7" />
<polygon points="496.4,759.1 511.2,744.1 511.9,753.4 517.3,761.0" fill="#0a1a66"/>
<line x1="656.4" y1="923.4" x2="518.0" y2="973.7" stroke="#0a1a66" stroke-width="5.7" />
<polygon points="502.0,979.5 516.8,964.6 517.5,973.9 522.9,981.5" fill="#0a1a66"/>
<polyline points="432.3,76 432.3,40.2 472.1,40.2 472.1,76" fill="none" stroke="#939393" stroke-width="1.8"/>
<polyline points="497.1,72.5 497.1,37.2 548.1,37.2 548.1,72.5" fill="none" stroke="#939393" stroke-width="1.8"/>
<polyline points="621.1,76 621.1,39.9 655,39.9 655,76" fill="none" stroke="#939393" stroke-width="1.8"/>
<polyline points="736,76 736,40.7 776,40.7 776,76" fill="none" stroke="#939393" stroke-width="1.8"/>
<polyline points="1122,76 1122,40.2 1144.9,40.2 1144.9,76" fill="none" stroke="#939393" stroke-width="1.8"/>
<text x="444.7" y="31.8" font-family="'Liberation Sans', Arial, sans-serif" font-size="34" font-weight="normal" fill="#000" stroke="#000" stroke-width="0.55" text-anchor="middle" >C-O</text>
<text x="522.2" y="29.9" font-family="'Liberation Sans', Arial, sans-serif" font-size="34" font-weight="normal" fill="#000" stroke="#000" stroke-width="0.55" text-anchor="middle" >C-H</text>
<text x="637.4" y="33.3" font-family="'Liberation Sans', Arial, sans-serif" font-size="34" font-weight="normal" fill="#000" stroke="#000" stroke-width="0.55" text-anchor="middle" >N-H</text>
<text x="758.7" y="31.7" font-family="'Liberation Sans', Arial, sans-serif" font-size="34" font-weight="normal" fill="#000" stroke="#000" stroke-width="0.55" text-anchor="middle" >C=O</text>
<text x="1134.8" y="33.6" font-family="'Liberation Sans', Arial, sans-serif" font-size="34" font-weight="normal" fill="#000" stroke="#000" stroke-width="0.55" text-anchor="middle" >O-H</text>
<text x="1219.5" y="121.9" font-family="'Liberation Sans', Arial, sans-serif" font-size="33" font-weight="bold" fill="#000" text-anchor="start" >rGO</text>
<text x="1219.9" y="355.2" font-family="'Liberation Sans', Arial, sans-serif" font-size="33" font-weight="bold" fill="#7030a0" text-anchor="start" >10-rGO</text>
<text x="1218.3" y="540.6" font-family="'Liberation Sans', Arial, sans-serif" font-size="33" font-weight="bold" fill="#325a1e" text-anchor="start" >9-rGO</text>
<text x="1218.3" y="726.6" font-family="'Liberation Sans', Arial, sans-serif" font-size="33" font-weight="bold" fill="#0a1f5c" text-anchor="start" >8-rGO</text>
<text x="1218.3" y="913.0" font-family="'Liberation Sans', Arial, sans-serif" font-size="33" font-weight="bold" fill="#ff0000" text-anchor="start" >7-rGO</text>
<text x="1219.8" y="1145.3" font-family="'Liberation Sans', Arial, sans-serif" font-size="33" font-weight="bold" fill="#333333" text-anchor="start" >MAI: PbCl<tspan font-size="21" dy="8">2</tspan></text>
<text x="326.0" y="154.0" font-family="'Liberation Serif', 'Times New Roman', serif" font-size="59" font-weight="normal" fill="#000" text-anchor="start" >(a)</text>
<text x="408.0" y="1314.8" font-family="'Liberation Sans', Arial, sans-serif" font-size="32" font-weight="normal" fill="#000" stroke="#000" stroke-width="0.55" text-anchor="middle" >500</text>
<text x="519.7" y="1314.8" font-family="'Liberation Sans', Arial, sans-serif" font-size="32" font-weight="normal" fill="#000" stroke="#000" stroke-width="0.55" text-anchor="middle" >1000</text>
<text x="631.4" y="1314.8" font-family="'Liberation Sans', Arial, sans-serif" font-size="32" font-weight="normal" fill="#000" stroke="#000" stroke-width="0.55" text-anchor="middle" >1500</text>
<text x="743.1" y="1314.8" font-family="'Liberation Sans', Arial, sans-serif" font-size="32" font-weight="normal" fill="#000" stroke="#000" stroke-width="0.55" text-anchor="middle" >2000</text>
<text x="854.9" y="1314.8" font-family="'Liberation Sans', Arial, sans-serif" font-size="32" font-weight="normal" fill="#000" stroke="#000" stroke-width="0.55" text-anchor="middle" >2500</text>
<text x="966.6" y="1314.8" font-family="'Liberation Sans', Arial, sans-serif" font-size="32" font-weight="normal" fill="#000" stroke="#000" stroke-width="0.55" text-anchor="middle" >3000</text>
<text x="1078.3" y="1314.8" font-family="'Liberation Sans', Arial, sans-serif" font-size="32" font-weight="normal" fill="#000" stroke="#000" stroke-width="0.55" text-anchor="middle" >3500</text>
<text x="1190.0" y="1314.8" font-family="'Liberation Sans', Arial, sans-serif" font-size="32" font-weight="normal" fill="#000" stroke="#000" stroke-width="0.55" text-anchor="middle" >4000</text>
<text x="625.0" y="1382.0" font-family="'Liberation Sans', Arial, sans-serif" font-size="40" font-weight="normal" fill="#000" stroke="#000" stroke-width="0.55" text-anchor="start" >Wavenumber (cm<tspan font-size="27" dy="-17">-1</tspan><tspan dy="17" dx="1">)</tspan></text>
<text transform="translate(349.4,1000.3) rotate(-90)" font-family="'Liberation Sans', Arial, sans-serif" font-size="40.5" fill="#000" stroke="#000" stroke-width="0.55">Relative Transmission (a.u.)</text>
<rect x="98.8" y="1511.2" width="692.4" height="880.8" fill="#e1f6c6" />
<path d="M99.0,1688.0 C104.2,1687.9 121.5,1687.9 130.0,1687.6 C138.5,1687.3 143.7,1686.8 150.0,1686.4 C156.3,1686.0 159.7,1685.7 168.0,1685.2 C176.3,1684.7 188.4,1684.3 200.0,1683.6 C211.6,1682.9 228.4,1682.1 237.6,1681.2 C246.8,1680.3 246.9,1678.8 255.1,1678.0 C263.3,1677.2 276.4,1676.9 287.0,1676.6 C297.6,1676.3 304.1,1676.5 318.9,1676.0 C333.7,1675.5 360.2,1674.2 375.6,1673.4 C391.0,1672.6 400.0,1671.5 411.4,1671.2 C422.8,1670.9 435.3,1672.0 444.0,1671.8 C452.7,1671.6 449.9,1670.3 463.8,1670.2 C477.7,1670.1 506.4,1671.4 527.6,1671.2 C548.9,1671.0 572.2,1669.3 591.3,1669.0 C610.4,1668.7 631.7,1669.9 642.3,1669.6 C652.9,1669.3 648.7,1668.5 655.1,1667.0 C661.5,1665.5 672.6,1662.1 680.6,1660.7 C688.6,1659.3 691.2,1659.1 702.9,1658.8 C714.6,1658.5 736.1,1658.8 750.8,1658.8 C765.5,1658.8 784.3,1658.8 791.0,1658.8" fill="none" stroke="#9b3cff" stroke-width="3.6" stroke-linejoin="round" stroke-linecap="round" />
<path d="M99.0,1853.0 C105.0,1852.8 125.5,1852.5 135.3,1852.0 C145.1,1851.5 152.5,1850.4 157.9,1849.8 C163.3,1849.2 160.4,1849.2 167.9,1848.4 C175.4,1847.6 189.8,1845.7 203.2,1844.8 C216.6,1843.9 233.4,1843.9 248.5,1843.0 C263.6,1842.1 280.2,1840.2 293.8,1839.4 C307.4,1838.7 318.7,1839.0 330.0,1838.5 C341.3,1838.0 348.9,1837.0 361.7,1836.2 C374.5,1835.5 393.2,1834.4 407.0,1834.0 C420.8,1833.6 429.4,1834.5 444.5,1834.0 C459.6,1833.5 481.1,1831.6 497.5,1830.8 C513.9,1830.0 527.7,1829.8 542.8,1829.4 C557.9,1829.0 573.0,1828.3 588.1,1828.5 C603.2,1828.7 622.8,1829.9 633.4,1830.3 C644.0,1830.7 646.2,1831.1 651.5,1830.8 C656.8,1830.5 658.2,1830.1 665.0,1828.5 C671.8,1826.9 683.1,1823.0 692.2,1821.3 C701.3,1819.6 710.3,1818.6 719.4,1818.1 C728.5,1817.6 734.7,1818.2 746.6,1818.1 C758.5,1817.9 783.6,1817.3 791.0,1817.2" fill="none" stroke="#1f9e1f" stroke-width="3.6" stroke-linejoin="round" stroke-linecap="round" />
<path d="M99.0,2025.3 C105.0,2025.5 123.8,2026.8 135.3,2026.6 C146.8,2026.4 158.1,2024.7 167.9,2023.9 C177.7,2023.1 182.9,2021.8 194.1,2021.6 C205.3,2021.4 222.1,2023.2 234.9,2023.0 C247.7,2022.8 256.0,2020.9 271.1,2020.7 C286.2,2020.5 308.9,2022.3 325.5,2022.1 C342.1,2021.9 357.1,2020.2 370.7,2019.4 C384.3,2018.6 394.7,2017.4 407.0,2017.1 C419.3,2016.8 429.4,2017.7 444.5,2017.6 C459.6,2017.5 481.1,2017.0 497.5,2016.7 C513.9,2016.4 529.2,2016.0 542.8,2015.8 C556.4,2015.6 565.4,2015.5 579.0,2015.8 C592.6,2016.1 612.2,2017.0 624.3,2017.6 C636.4,2018.2 644.7,2019.4 651.5,2019.4 C658.3,2019.4 657.5,2019.4 665.0,2017.6 C672.5,2015.8 687.0,2010.4 696.8,2008.5 C706.6,2006.6 708.3,2006.8 724.0,2006.3 C739.7,2005.8 779.8,2005.9 791.0,2005.8" fill="none" stroke="#0c1a9e" stroke-width="3.6" stroke-linejoin="round" stroke-linecap="round" />
<path d="M99.0,2122.8 C105.0,2123.3 123.8,2126.0 135.3,2126.0 C146.8,2126.0 159.6,2123.5 167.9,2122.8 C176.2,2122.1 173.9,2121.5 185.1,2121.9 C196.3,2122.3 219.1,2125.1 234.9,2125.1 C250.8,2125.1 265.1,2122.3 280.2,2121.9 C295.3,2121.5 310.4,2122.6 325.5,2122.4 C340.6,2122.2 350.9,2121.1 370.7,2120.6 C390.5,2120.1 423.4,2120.0 444.5,2119.7 C465.6,2119.4 476.6,2119.3 497.5,2118.7 C518.4,2118.1 547.4,2116.0 570.0,2116.0 C592.6,2116.0 618.3,2118.5 633.4,2118.7 C648.5,2118.8 650.7,2117.9 660.5,2116.9 C670.3,2115.9 680.1,2113.8 692.2,2112.9 C704.3,2112.0 720.2,2111.7 733.0,2111.5 C745.8,2111.3 759.5,2111.1 769.2,2111.5 C778.9,2111.9 787.4,2113.4 791.0,2113.8" fill="none" stroke="#ff1e1e" stroke-width="3.6" stroke-linejoin="round" stroke-linecap="round" />
<path d="M99.2,2240.3 C105.1,2240.7 122.9,2241.8 134.3,2242.4 C145.8,2243.0 160.2,2243.5 167.9,2243.9 C175.7,2244.3 172.6,2245.0 180.8,2244.9 C189.0,2244.8 200.6,2243.6 217.0,2243.4 C233.4,2243.2 259.2,2243.4 279.0,2243.9 C298.8,2244.4 316.9,2246.3 335.8,2246.5 C354.7,2246.7 374.5,2245.1 392.6,2244.9 C410.7,2244.7 423.6,2245.4 444.3,2245.5 C465.0,2245.6 496.0,2245.3 516.6,2245.5 C537.2,2245.7 551.0,2246.2 568.2,2246.5 C585.4,2246.8 605.7,2247.2 619.9,2247.5 C634.1,2247.8 644.9,2248.2 653.5,2248.0 C662.1,2247.8 661.7,2247.4 671.6,2246.5 C681.5,2245.6 693.1,2243.1 712.9,2242.4 C732.7,2241.7 777.5,2242.4 790.4,2242.4" fill="none" stroke="#111111" stroke-width="3.6" stroke-linejoin="round" stroke-linecap="round" />
<line x1="98.8" y1="1687.4" x2="791.2" y2="1687.4" stroke="#000" stroke-width="2.4" />
<line x1="98.8" y1="1863.5" x2="791.2" y2="1863.5" stroke="#000" stroke-width="2.4" />
<line x1="98.8" y1="2039.7" x2="791.2" y2="2039.7" stroke="#000" stroke-width="2.4" />
<line x1="98.8" y1="2215.8" x2="791.2" y2="2215.8" stroke="#000" stroke-width="2.4" />
<rect x="98.8" y="1511.2" width="692.4000000000001" height="880.8" fill="none" stroke="#000" stroke-width="2.6"/>
<line x1="168.0" y1="1511.2" x2="168.0" y2="1517.2" stroke="#000" stroke-width="2.2" />
<line x1="168.0" y1="1687.4" x2="168.0" y2="1681.4" stroke="#000" stroke-width="2.2" />
<line x1="168.0" y1="1863.5" x2="168.0" y2="1857.5" stroke="#000" stroke-width="2.2" />
<line x1="168.0" y1="2039.7" x2="168.0" y2="2033.7" stroke="#000" stroke-width="2.2" />
<line x1="168.0" y1="2215.8" x2="168.0" y2="2209.8" stroke="#000" stroke-width="2.2" />
<line x1="168.0" y1="2392.0" x2="168.0" y2="2386.0" stroke="#000" stroke-width="2.2" />
<line x1="237.3" y1="1511.2" x2="237.3" y2="1523.2" stroke="#000" stroke-width="2.2" />
<line x1="237.3" y1="1687.4" x2="237.3" y2="1675.4" stroke="#000" stroke-width="2.2" />
<line x1="237.3" y1="1863.5" x2="237.3" y2="1851.5" stroke="#000" stroke-width="2.2" />
<line x1="237.3" y1="2039.7" x2="237.3" y2="2027.7" stroke="#000" stroke-width="2.2" />
<line x1="237.3" y1="2215.8" x2="237.3" y2="2203.8" stroke="#000" stroke-width="2.2" />
<line x1="237.3" y1="2392.0" x2="237.3" y2="2380.0" stroke="#000" stroke-width="2.2" />
<line x1="306.5" y1="1511.2" x2="306.5" y2="1517.2" stroke="#000" stroke-width="2.2" />
<line x1="306.5" y1="1687.4" x2="306.5" y2="1681.4" stroke="#000" stroke-width="2.2" />
<line x1="306.5" y1="1863.5" x2="306.5" y2="1857.5" stroke="#000" stroke-width="2.2" />
<line x1="306.5" y1="2039.7" x2="306.5" y2="2033.7" stroke="#000" stroke-width="2.2" />
<line x1="306.5" y1="2215.8" x2="306.5" y2="2209.8" stroke="#000" stroke-width="2.2" />
<line x1="306.5" y1="2392.0" x2="306.5" y2="2386.0" stroke="#000" stroke-width="2.2" />
<line x1="375.8" y1="1511.2" x2="375.8" y2="1523.2" stroke="#000" stroke-width="2.2" />
<line x1="375.8" y1="1687.4" x2="375.8" y2="1675.4" stroke="#000" stroke-width="2.2" />
<line x1="375.8" y1="1863.5" x2="375.8" y2="1851.5" stroke="#000" stroke-width="2.2" />
<line x1="375.8" y1="2039.7" x2="375.8" y2="2027.7" stroke="#000" stroke-width="2.2" />
<line x1="375.8" y1="2215.8" x2="375.8" y2="2203.8" stroke="#000" stroke-width="2.2" />
<line x1="375.8" y1="2392.0" x2="375.8" y2="2380.0" stroke="#000" stroke-width="2.2" />
<line x1="445.0" y1="1511.2" x2="445.0" y2="1517.2" stroke="#000" stroke-width="2.2" />
<line x1="445.0" y1="1687.4" x2="445.0" y2="1681.4" stroke="#000" stroke-width="2.2" />
<line x1="445.0" y1="1863.5" x2="445.0" y2="1857.5" stroke="#000" stroke-width="2.2" />
<line x1="445.0" y1="2039.7" x2="445.0" y2="2033.7" stroke="#000" stroke-width="2.2" />
<line x1="445.0" y1="2215.8" x2="445.0" y2="2209.8" stroke="#000" stroke-width="2.2" />
<line x1="445.0" y1="2392.0" x2="445.0" y2="2386.0" stroke="#000" stroke-width="2.2" />
<line x1="514.2" y1="1511.2" x2="514.2" y2="1523.2" stroke="#000" stroke-width="2.2" />
<line x1="514.2" y1="1687.4" x2="514.2" y2="1675.4" stroke="#000" stroke-width="2.2" />
<line x1="514.2" y1="1863.5" x2="514.2" y2="1851.5" stroke="#000" stroke-width="2.2" />
<line x1="514.2" y1="2039.7" x2="514.2" y2="2027.7" stroke="#000" stroke-width="2.2" />
<line x1="514.2" y1="2215.8" x2="514.2" y2="2203.8" stroke="#000" stroke-width="2.2" />
<line x1="514.2" y1="2392.0" x2="514.2" y2="2380.0" stroke="#000" stroke-width="2.2" />
<line x1="583.5" y1="1511.2" x2="583.5" y2="1517.2" stroke="#000" stroke-width="2.2" />
<line x1="583.5" y1="1687.4" x2="583.5" y2="1681.4" stroke="#000" stroke-width="2.2" />
<line x1="583.5" y1="1863.5" x2="583.5" y2="1857.5" stroke="#000" stroke-width="2.2" />
<line x1="583.5" y1="2039.7" x2="583.5" y2="2033.7" stroke="#000" stroke-width="2.2" />
<line x1="583.5" y1="2215.8" x2="583.5" y2="2209.8" stroke="#000" stroke-width="2.2" />
<line x1="583.5" y1="2392.0" x2="583.5" y2="2386.0" stroke="#000" stroke-width="2.2" />
<line x1="652.7" y1="1511.2" x2="652.7" y2="1523.2" stroke="#000" stroke-width="2.2" />
<line x1="652.7" y1="1687.4" x2="652.7" y2="1675.4" stroke="#000" stroke-width="2.2" />
<line x1="652.7" y1="1863.5" x2="652.7" y2="1851.5" stroke="#000" stroke-width="2.2" />
<line x1="652.7" y1="2039.7" x2="652.7" y2="2027.7" stroke="#000" stroke-width="2.2" />
<line x1="652.7" y1="2215.8" x2="652.7" y2="2203.8" stroke="#000" stroke-width="2.2" />
<line x1="652.7" y1="2392.0" x2="652.7" y2="2380.0" stroke="#000" stroke-width="2.2" />
<line x1="722.0" y1="1511.2" x2="722.0" y2="1517.2" stroke="#000" stroke-width="2.2" />
<line x1="722.0" y1="1687.4" x2="722.0" y2="1681.4" stroke="#000" stroke-width="2.2" />
<line x1="722.0" y1="1863.5" x2="722.0" y2="1857.5" stroke="#000" stroke-width="2.2" />
<line x1="722.0" y1="2039.7" x2="722.0" y2="2033.7" stroke="#000" stroke-width="2.2" />
<line x1="722.0" y1="2215.8" x2="722.0" y2="2209.8" stroke="#000" stroke-width="2.2" />
<line x1="722.0" y1="2392.0" x2="722.0" y2="2386.0" stroke="#000" stroke-width="2.2" />
<line x1="98.8" y1="1525.5" x2="110.8" y2="1525.5" stroke="#000" stroke-width="2.2" />
<line x1="791.2" y1="1525.5" x2="779.2" y2="1525.5" stroke="#000" stroke-width="2.2" />
<line x1="98.8" y1="1547.9" x2="104.8" y2="1547.9" stroke="#000" stroke-width="2.2" />
<line x1="791.2" y1="1547.9" x2="785.2" y2="1547.9" stroke="#000" stroke-width="2.2" />
<line x1="98.8" y1="1570.3" x2="110.8" y2="1570.3" stroke="#000" stroke-width="2.2" />
<line x1="791.2" y1="1570.3" x2="779.2" y2="1570.3" stroke="#000" stroke-width="2.2" />
<line x1="98.8" y1="1592.7" x2="104.8" y2="1592.7" stroke="#000" stroke-width="2.2" />
<line x1="791.2" y1="1592.7" x2="785.2" y2="1592.7" stroke="#000" stroke-width="2.2" />
<line x1="98.8" y1="1615.1" x2="110.8" y2="1615.1" stroke="#000" stroke-width="2.2" />
<line x1="791.2" y1="1615.1" x2="779.2" y2="1615.1" stroke="#000" stroke-width="2.2" />
<line x1="98.8" y1="1637.5" x2="104.8" y2="1637.5" stroke="#000" stroke-width="2.2" />
<line x1="791.2" y1="1637.5" x2="785.2" y2="1637.5" stroke="#000" stroke-width="2.2" />
<line x1="98.8" y1="1659.9" x2="110.8" y2="1659.9" stroke="#000" stroke-width="2.2" />
<line x1="791.2" y1="1659.9" x2="779.2" y2="1659.9" stroke="#000" stroke-width="2.2" />
<line x1="98.8" y1="1682.3" x2="104.8" y2="1682.3" stroke="#000" stroke-width="2.2" />
<line x1="791.2" y1="1682.3" x2="785.2" y2="1682.3" stroke="#000" stroke-width="2.2" />
<line x1="98.8" y1="1701.7" x2="110.8" y2="1701.7" stroke="#000" stroke-width="2.2" />
<line x1="791.2" y1="1701.7" x2="779.2" y2="1701.7" stroke="#000" stroke-width="2.2" />
<line x1="98.8" y1="1724.1" x2="104.8" y2="1724.1" stroke="#000" stroke-width="2.2" />
<line x1="791.2" y1="1724.1" x2="785.2" y2="1724.1" stroke="#000" stroke-width="2.2" />
<line x1="98.8" y1="1746.5" x2="110.8" y2="1746.5" stroke="#000" stroke-width="2.2" />
<line x1="791.2" y1="1746.5" x2="779.2" y2="1746.5" stroke="#000" stroke-width="2.2" />
<line x1="98.8" y1="1768.9" x2="104.8" y2="1768.9" stroke="#000" stroke-width="2.2" />
<line x1="791.2" y1="1768.9" x2="785.2" y2="1768.9" stroke="#000" stroke-width="2.2" />
<line x1="98.8" y1="1791.3" x2="110.8" y2="1791.3" stroke="#000" stroke-width="2.2" />
<line x1="791.2" y1="1791.3" x2="779.2" y2="1791.3" stroke="#000" stroke-width="2.2" />
<line x1="98.8" y1="1813.7" x2="104.8" y2="1813.7" stroke="#000" stroke-width="2.2" />
<line x1="791.2" y1="1813.7" x2="785.2" y2="1813.7" stroke="#000" stroke-width="2.2" />
<line x1="98.8" y1="1836.1" x2="110.8" y2="1836.1" stroke="#000" stroke-width="2.2" />
<line x1="791.2" y1="1836.1" x2="779.2" y2="1836.1" stroke="#000" stroke-width="2.2" />
<line x1="98.8" y1="1858.5" x2="104.8" y2="1858.5" stroke="#000" stroke-width="2.2" />
<line x1="791.2" y1="1858.5" x2="785.2" y2="1858.5" stroke="#000" stroke-width="2.2" />
<line x1="98.8" y1="1877.8" x2="110.8" y2="1877.8" stroke="#000" stroke-width="2.2" />
<line x1="791.2" y1="1877.8" x2="779.2" y2="1877.8" stroke="#000" stroke-width="2.2" />
<line x1="98.8" y1="1900.2" x2="104.8" y2="1900.2" stroke="#000" stroke-width="2.2" />
<line x1="791.2" y1="1900.2" x2="785.2" y2="1900.2" stroke="#000" stroke-width="2.2" />
<line x1="98.8" y1="1922.6" x2="110.8" y2="1922.6" stroke="#000" stroke-width="2.2" />
<line x1="791.2" y1="1922.6" x2="779.2" y2="1922.6" stroke="#000" stroke-width="2.2" />
<line x1="98.8" y1="1945.0" x2="104.8" y2="1945.0" stroke="#000" stroke-width="2.2" />
<line x1="791.2" y1="1945.0" x2="785.2" y2="1945.0" stroke="#000" stroke-width="2.2" />
<line x1="98.8" y1="1967.4" x2="110.8" y2="1967.4" stroke="#000" stroke-width="2.2" />
<line x1="791.2" y1="1967.4" x2="779.2" y2="1967.4" stroke="#000" stroke-width="2.2" />
<line x1="98.8" y1="1989.8" x2="104.8" y2="1989.8" stroke="#000" stroke-width="2.2" />
<line x1="791.2" y1="1989.8" x2="785.2" y2="1989.8" stroke="#000" stroke-width="2.2" />
<line x1="98.8" y1="2012.2" x2="110.8" y2="2012.2" stroke="#000" stroke-width="2.2" />
<line x1="791.2" y1="2012.2" x2="779.2" y2="2012.2" stroke="#000" stroke-width="2.2" />
<line x1="98.8" y1="2034.6" x2="104.8" y2="2034.6" stroke="#000" stroke-width="2.2" />
<line x1="791.2" y1="2034.6" x2="785.2" y2="2034.6" stroke="#000" stroke-width="2.2" />
<line x1="98.8" y1="2054.0" x2="110.8" y2="2054.0" stroke="#000" stroke-width="2.2" />
<line x1="791.2" y1="2054.0" x2="779.2" y2="2054.0" stroke="#000" stroke-width="2.2" />
<line x1="98.8" y1="2076.4" x2="104.8" y2="2076.4" stroke="#000" stroke-width="2.2" />
<line x1="791.2" y1="2076.4" x2="785.2" y2="2076.4" stroke="#000" stroke-width="2.2" />
<line x1="98.8" y1="2098.8" x2="110.8" y2="2098.8" stroke="#000" stroke-width="2.2" />
<line x1="791.2" y1="2098.8" x2="779.2" y2="2098.8" stroke="#000" stroke-width="2.2" />
<line x1="98.8" y1="2121.2" x2="104.8" y2="2121.2" stroke="#000" stroke-width="2.2" />
<line x1="791.2" y1="2121.2" x2="785.2" y2="2121.2" stroke="#000" stroke-width="2.2" />
<line x1="98.8" y1="2143.6" x2="110.8" y2="2143.6" stroke="#000" stroke-width="2.2" />
<line x1="791.2" y1="2143.6" x2="779.2" y2="2143.6" stroke="#000" stroke-width="2.2" />
<line x1="98.8" y1="2166.0" x2="104.8" y2="2166.0" stroke="#000" stroke-width="2.2" />
<line x1="791.2" y1="2166.0" x2="785.2" y2="2166.0" stroke="#000" stroke-width="2.2" />
<line x1="98.8" y1="2188.4" x2="110.8" y2="2188.4" stroke="#000" stroke-width="2.2" />
<line x1="791.2" y1="2188.4" x2="779.2" y2="2188.4" stroke="#000" stroke-width="2.2" />
<line x1="98.8" y1="2210.8" x2="104.8" y2="2210.8" stroke="#000" stroke-width="2.2" />
<line x1="791.2" y1="2210.8" x2="785.2" y2="2210.8" stroke="#000" stroke-width="2.2" />
<line x1="98.8" y1="2230.1" x2="110.8" y2="2230.1" stroke="#000" stroke-width="2.2" />
<line x1="791.2" y1="2230.1" x2="779.2" y2="2230.1" stroke="#000" stroke-width="2.2" />
<line x1="98.8" y1="2252.5" x2="104.8" y2="2252.5" stroke="#000" stroke-width="2.2" />
<line x1="791.2" y1="2252.5" x2="785.2" y2="2252.5" stroke="#000" stroke-width="2.2" />
<line x1="98.8" y1="2274.9" x2="110.8" y2="2274.9" stroke="#000" stroke-width="2.2" />
<line x1="791.2" y1="2274.9" x2="779.2" y2="2274.9" stroke="#000" stroke-width="2.2" />
<line x1="98.8" y1="2297.3" x2="104.8" y2="2297.3" stroke="#000" stroke-width="2.2" />
<line x1="791.2" y1="2297.3" x2="785.2" y2="2297.3" stroke="#000" stroke-width="2.2" />
<line x1="98.8" y1="2319.7" x2="110.8" y2="2319.7" stroke="#000" stroke-width="2.2" />
<line x1="791.2" y1="2319.7" x2="779.2" y2="2319.7" stroke="#000" stroke-width="2.2" />
<line x1="98.8" y1="2342.1" x2="104.8" y2="2342.1" stroke="#000" stroke-width="2.2" />
<line x1="791.2" y1="2342.1" x2="785.2" y2="2342.1" stroke="#000" stroke-width="2.2" />
<line x1="98.8" y1="2364.5" x2="110.8" y2="2364.5" stroke="#000" stroke-width="2.2" />
<line x1="791.2" y1="2364.5" x2="779.2" y2="2364.5" stroke="#000" stroke-width="2.2" />
<line x1="98.8" y1="2386.9" x2="104.8" y2="2386.9" stroke="#000" stroke-width="2.2" />
<line x1="791.2" y1="2386.9" x2="785.2" y2="2386.9" stroke="#000" stroke-width="2.2" />
<line x1="561.0" y1="1546.8" x2="645.0" y2="1546.8" stroke="#9b3cff" stroke-width="3.6" />
<line x1="578.1" y1="1728.9" x2="660.5" y2="1728.9" stroke="#1f9e1f" stroke-width="3.6" />
<line x1="582.6" y1="1899.8" x2="664.1" y2="1899.8" stroke="#0c1a9e" stroke-width="3.6" />
<line x1="580.0" y1="2075.3" x2="661.4" y2="2075.3" stroke="#ff1e1e" stroke-width="3.6" />
<line x1="495.9" y1="2287.8" x2="577.5" y2="2287.8" stroke="#111111" stroke-width="3.6" />
<rect x="168.0" y="1509.9" width="277.0" height="883.4" fill="#e8a300" fill-opacity="0.43"/>
<line x1="168.0" y1="1511.2" x2="168.0" y2="2392.0" stroke="#7d7040" stroke-width="1.3" />
<line x1="445.0" y1="1511.2" x2="445.0" y2="2392.0" stroke="#7d7040" stroke-width="1.3" />
<text x="653.6" y="1559.6" font-family="'Liberation Sans', Arial, sans-serif" font-size="35.5" font-weight="bold" fill="#000" text-anchor="start" >10-rGO</text>
<text x="669.0" y="1741.1" font-family="'Liberation Sans', Arial, sans-serif" font-size="35.5" font-weight="bold" fill="#000" text-anchor="start" >9-rGO</text>
<text x="672.6" y="1913.4" font-family="'Liberation Sans', Arial, sans-serif" font-size="35.5" font-weight="bold" fill="#000" text-anchor="start" >8-rGO</text>
<text x="670.5" y="2088.9" font-family="'Liberation Sans', Arial, sans-serif" font-size="35.5" font-weight="bold" fill="#000" text-anchor="start" >7-rGO</text>
<text x="587.4" y="2300.0" font-family="'Liberation Sans', Arial, sans-serif" font-size="35.5" font-weight="bold" fill="#000" text-anchor="start" >MAI: PbCl<tspan font-size="22" dy="8">2</tspan></text>
<text x="205.3" y="1498.4" font-family="'Liberation Sans', Arial, sans-serif" font-size="36.2" font-weight="normal" fill="#000" stroke="#000" stroke-width="0.55" text-anchor="start" >C-O bonding</text>
<text x="0.4" y="1571.7" font-family="'Liberation Serif', 'Times New Roman', serif" font-size="59" font-weight="normal" fill="#000" text-anchor="start" >(b)</text>
<text x="98.8" y="2430.0" font-family="'Liberation Sans', Arial, sans-serif" font-size="30" font-weight="normal" fill="#000" stroke="#000" stroke-width="0.55" text-anchor="middle" >500</text>
<text x="237.3" y="2430.0" font-family="'Liberation Sans', Arial, sans-serif" font-size="30" font-weight="normal" fill="#000" stroke="#000" stroke-width="0.55" text-anchor="middle" >600</text>
<text x="375.8" y="2430.0" font-family="'Liberation Sans', Arial, sans-serif" font-size="30" font-weight="normal" fill="#000" stroke="#000" stroke-width="0.55" text-anchor="middle" >700</text>
<text x="514.2" y="2430.0" font-family="'Liberation Sans', Arial, sans-serif" font-size="30" font-weight="normal" fill="#000" stroke="#000" stroke-width="0.55" text-anchor="middle" >800</text>
<text x="652.7" y="2430.0" font-family="'Liberation Sans', Arial, sans-serif" font-size="30" font-weight="normal" fill="#000" stroke="#000" stroke-width="0.55" text-anchor="middle" >900</text>
<text x="791.2" y="2430.0" font-family="'Liberation Sans', Arial, sans-serif" font-size="30" font-weight="normal" fill="#000" stroke="#000" stroke-width="0.55" text-anchor="middle" >1000</text>
<text x="295.0" y="2488.0" font-family="'Liberation Sans', Arial, sans-serif" font-size="35.6" font-weight="normal" fill="#000" stroke="#000" stroke-width="0.55" text-anchor="start" >Wavenumber(cm<tspan font-size="24" dy="-15">-1</tspan><tspan dy="15">)</tspan></text>
<text transform="translate(57,2187.8) rotate(-90)" font-family="'Liberation Sans', Arial, sans-serif" font-size="35.8" fill="#000" stroke="#000" stroke-width="0.55">Relative Transmission (a.u.)</text>
<rect x="929.2" y="1503.0" width="699.0" height="888.0" fill="#e1f6c6" />
<path d="M929.2,1636.1 C936.3,1635.8 956.6,1635.1 971.6,1634.5 C986.6,1633.9 1003.5,1632.8 1019.4,1632.3 C1035.3,1631.8 1054.0,1631.2 1067.3,1631.3 C1080.6,1631.4 1088.6,1633.0 1099.2,1632.9 C1109.8,1632.8 1120.4,1630.7 1131.0,1630.7 C1141.6,1630.7 1149.8,1632.9 1162.9,1632.9 C1176.0,1632.9 1197.8,1631.4 1209.8,1630.7 C1221.8,1630.0 1226.3,1629.1 1235.0,1628.5 C1243.7,1627.9 1253.7,1626.7 1262.0,1626.9 C1270.3,1627.1 1277.6,1628.7 1285.0,1629.5 C1292.4,1630.3 1295.7,1631.9 1306.3,1631.9 C1316.9,1631.9 1335.7,1629.6 1348.5,1629.6 C1361.3,1629.6 1369.9,1632.2 1383.1,1631.9 C1396.2,1631.6 1413.6,1628.0 1427.4,1627.8 C1441.2,1627.6 1454.5,1630.2 1465.8,1630.5 C1477.1,1630.8 1484.5,1629.3 1495.3,1629.6 C1506.1,1629.9 1515.9,1632.3 1530.7,1632.5 C1545.5,1632.7 1567.9,1630.6 1583.9,1630.5 C1599.9,1630.4 1619.4,1631.7 1626.5,1631.9 L1627.5,1680.0" fill="none" stroke="#9b3cff" stroke-width="3.6" stroke-linejoin="round" stroke-linecap="round" />
<path d="M928.3,1801.8 C938.4,1801.8 971.1,1802.2 988.9,1801.8 C1006.6,1801.4 1019.5,1800.2 1034.8,1799.5 C1050.1,1798.8 1061.6,1798.0 1080.7,1797.7 C1099.8,1797.4 1134.3,1798.2 1149.6,1797.7 C1164.9,1797.2 1162.5,1794.8 1172.5,1794.9 C1182.5,1795.1 1197.8,1798.8 1209.3,1798.6 C1220.8,1798.4 1231.5,1795.5 1241.4,1794.0 C1251.4,1792.5 1259.8,1789.2 1269.0,1789.4 C1278.2,1789.6 1288.1,1793.4 1296.5,1794.9 C1304.9,1796.4 1310.7,1798.2 1319.5,1798.6 C1328.3,1799.0 1337.8,1797.6 1349.3,1797.2 C1360.8,1796.8 1375.8,1797.1 1388.4,1796.3 C1401.0,1795.5 1412.9,1792.7 1425.1,1792.6 C1437.3,1792.5 1446.5,1794.8 1461.8,1795.8 C1477.1,1796.8 1500.1,1797.9 1516.9,1798.6 C1533.7,1799.3 1545.2,1799.8 1562.8,1800.0 C1580.4,1800.2 1611.9,1799.2 1622.6,1799.5 C1633.3,1799.8 1626.3,1801.6 1627.0,1802.0 L1627.5,1858.0" fill="none" stroke="#1f9e1f" stroke-width="3.6" stroke-linejoin="round" stroke-linecap="round" />
<path d="M928.3,1999.2 C934.6,1999.0 952.0,1998.4 965.9,1997.9 C979.8,1997.4 998.0,1996.2 1011.8,1996.0 C1025.6,1995.8 1036.3,1997.3 1048.6,1996.9 C1060.8,1996.5 1071.5,1994.1 1085.3,1993.7 C1099.1,1993.3 1119.7,1994.2 1131.2,1994.6 C1142.7,1995.0 1145.0,1996.2 1154.2,1996.0 C1163.4,1995.8 1177.0,1993.7 1186.3,1993.7 C1195.6,1993.7 1201.0,1996.4 1210.2,1996.0 C1219.4,1995.6 1231.2,1993.4 1241.4,1991.4 C1251.6,1989.4 1262.9,1984.7 1271.3,1984.1 C1279.7,1983.5 1285.4,1985.8 1291.9,1987.8 C1298.4,1989.8 1300.7,1995.2 1310.3,1996.0 C1319.9,1996.8 1336.3,1993.3 1349.3,1992.3 C1362.3,1991.3 1375.0,1990.8 1388.4,1990.0 C1401.8,1989.2 1415.9,1987.6 1429.7,1987.8 C1443.5,1988.0 1453.4,1989.9 1471.0,1991.4 C1488.6,1992.9 1516.2,1996.0 1535.3,1996.9 C1554.4,1997.8 1570.6,1996.7 1585.8,1996.9 C1601.0,1997.1 1619.7,1997.7 1626.5,1997.9 L1627.5,2036.0" fill="none" stroke="#0c1a9e" stroke-width="3.6" stroke-linejoin="round" stroke-linecap="round" />
<path d="M928.3,2098.0 C936.1,2097.8 961.2,2097.4 975.1,2096.6 C989.0,2095.8 998.0,2094.2 1011.8,2093.4 C1025.6,2092.6 1046.3,2092.6 1057.8,2092.0 C1069.3,2091.4 1071.5,2089.8 1080.7,2089.7 C1089.9,2089.5 1103.0,2091.1 1112.9,2091.1 C1122.9,2091.1 1124.2,2089.4 1140.4,2089.7 C1156.6,2090.0 1193.4,2093.7 1210.2,2092.9 C1227.0,2092.1 1231.6,2087.4 1241.4,2085.1 C1251.2,2082.8 1259.8,2078.7 1269.0,2079.1 C1278.2,2079.5 1288.1,2084.9 1296.5,2087.4 C1304.9,2089.9 1310.7,2093.7 1319.5,2094.3 C1328.3,2094.9 1337.8,2092.0 1349.3,2091.1 C1360.8,2090.2 1375.8,2089.7 1388.4,2088.8 C1401.0,2088.0 1413.6,2085.8 1425.1,2086.0 C1436.6,2086.2 1447.2,2089.2 1457.2,2089.7 C1467.2,2090.2 1474.8,2088.4 1484.8,2088.8 C1494.8,2089.2 1503.9,2091.1 1516.9,2092.0 C1529.9,2092.9 1545.2,2093.8 1562.8,2094.3 C1580.4,2094.8 1611.9,2094.6 1622.6,2095.2 C1633.3,2095.8 1626.3,2097.5 1627.0,2098.0 L1627.5,2214.0" fill="none" stroke="#ff1e1e" stroke-width="3.6" stroke-linejoin="round" stroke-linecap="round" />
<path d="M929.1,2246.1 C943.2,2246.1 991.0,2246.3 1013.6,2246.1 C1036.2,2245.8 1050.3,2244.3 1064.8,2244.6 C1079.3,2244.8 1087.9,2247.3 1100.7,2247.6 C1113.5,2247.8 1123.8,2246.5 1141.7,2246.1 C1159.6,2245.7 1192.0,2245.1 1208.2,2245.1 C1224.4,2245.1 1228.8,2246.6 1239.0,2246.1 C1249.2,2245.6 1258.6,2242.2 1269.7,2242.0 C1280.8,2241.8 1292.3,2244.2 1305.5,2245.1 C1318.7,2246.0 1336.3,2247.0 1349.1,2247.6 C1361.9,2248.2 1369.6,2249.5 1382.4,2248.6 C1395.2,2247.7 1412.2,2242.4 1425.9,2242.0 C1439.6,2241.6 1447.7,2245.2 1464.3,2246.1 C1480.9,2246.9 1500.1,2246.8 1525.7,2247.1 C1551.3,2247.3 1601.0,2246.9 1617.9,2247.6 C1634.8,2248.3 1625.5,2250.6 1627.0,2251.2" fill="none" stroke="#111111" stroke-width="3.6" stroke-linejoin="round" stroke-linecap="round" />
<line x1="929.2" y1="1680.6" x2="1628.2" y2="1680.6" stroke="#000" stroke-width="2.4" />
<line x1="929.2" y1="1858.2" x2="1628.2" y2="1858.2" stroke="#000" stroke-width="2.4" />
<line x1="929.2" y1="2035.8" x2="1628.2" y2="2035.8" stroke="#000" stroke-width="2.4" />
<line x1="929.2" y1="2213.4" x2="1628.2" y2="2213.4" stroke="#000" stroke-width="2.4" />
<rect x="929.2" y="1503" width="699.0" height="888" fill="none" stroke="#000" stroke-width="2.6"/>
<line x1="999.1" y1="1503.0" x2="999.1" y2="1509.0" stroke="#000" stroke-width="2.2" />
<line x1="999.1" y1="1680.6" x2="999.1" y2="1674.6" stroke="#000" stroke-width="2.2" />
<line x1="999.1" y1="1858.2" x2="999.1" y2="1852.2" stroke="#000" stroke-width="2.2" />
<line x1="999.1" y1="2035.8" x2="999.1" y2="2029.8" stroke="#000" stroke-width="2.2" />
<line x1="999.1" y1="2213.4" x2="999.1" y2="2207.4" stroke="#000" stroke-width="2.2" />
<line x1="999.1" y1="2391.0" x2="999.1" y2="2385.0" stroke="#000" stroke-width="2.2" />
<line x1="1069.0" y1="1503.0" x2="1069.0" y2="1515.0" stroke="#000" stroke-width="2.2" />
<line x1="1069.0" y1="1680.6" x2="1069.0" y2="1668.6" stroke="#000" stroke-width="2.2" />
<line x1="1069.0" y1="1858.2" x2="1069.0" y2="1846.2" stroke="#000" stroke-width="2.2" />
<line x1="1069.0" y1="2035.8" x2="1069.0" y2="2023.8" stroke="#000" stroke-width="2.2" />
<line x1="1069.0" y1="2213.4" x2="1069.0" y2="2201.4" stroke="#000" stroke-width="2.2" />
<line x1="1069.0" y1="2391.0" x2="1069.0" y2="2379.0" stroke="#000" stroke-width="2.2" />
<line x1="1138.9" y1="1503.0" x2="1138.9" y2="1509.0" stroke="#000" stroke-width="2.2" />
<line x1="1138.9" y1="1680.6" x2="1138.9" y2="1674.6" stroke="#000" stroke-width="2.2" />
<line x1="1138.9" y1="1858.2" x2="1138.9" y2="1852.2" stroke="#000" stroke-width="2.2" />
<line x1="1138.9" y1="2035.8" x2="1138.9" y2="2029.8" stroke="#000" stroke-width="2.2" />
<line x1="1138.9" y1="2213.4" x2="1138.9" y2="2207.4" stroke="#000" stroke-width="2.2" />
<line x1="1138.9" y1="2391.0" x2="1138.9" y2="2385.0" stroke="#000" stroke-width="2.2" />
<line x1="1208.8" y1="1503.0" x2="1208.8" y2="1515.0" stroke="#000" stroke-width="2.2" />
<line x1="1208.8" y1="1680.6" x2="1208.8" y2="1668.6" stroke="#000" stroke-width="2.2" />
<line x1="1208.8" y1="1858.2" x2="1208.8" y2="1846.2" stroke="#000" stroke-width="2.2" />
<line x1="1208.8" y1="2035.8" x2="1208.8" y2="2023.8" stroke="#000" stroke-width="2.2" />
<line x1="1208.8" y1="2213.4" x2="1208.8" y2="2201.4" stroke="#000" stroke-width="2.2" />
<line x1="1208.8" y1="2391.0" x2="1208.8" y2="2379.0" stroke="#000" stroke-width="2.2" />
<line x1="1278.7" y1="1503.0" x2="1278.7" y2="1509.0" stroke="#000" stroke-width="2.2" />
<line x1="1278.7" y1="1680.6" x2="1278.7" y2="1674.6" stroke="#000" stroke-width="2.2" />
<line x1="1278.7" y1="1858.2" x2="1278.7" y2="1852.2" stroke="#000" stroke-width="2.2" />
<line x1="1278.7" y1="2035.8" x2="1278.7" y2="2029.8" stroke="#000" stroke-width="2.2" />
<line x1="1278.7" y1="2213.4" x2="1278.7" y2="2207.4" stroke="#000" stroke-width="2.2" />
<line x1="1278.7" y1="2391.0" x2="1278.7" y2="2385.0" stroke="#000" stroke-width="2.2" />
<line x1="1348.6" y1="1503.0" x2="1348.6" y2="1515.0" stroke="#000" stroke-width="2.2" />
<line x1="1348.6" y1="1680.6" x2="1348.6" y2="1668.6" stroke="#000" stroke-width="2.2" />
<line x1="1348.6" y1="1858.2" x2="1348.6" y2="1846.2" stroke="#000" stroke-width="2.2" />
<line x1="1348.6" y1="2035.8" x2="1348.6" y2="2023.8" stroke="#000" stroke-width="2.2" />
<line x1="1348.6" y1="2213.4" x2="1348.6" y2="2201.4" stroke="#000" stroke-width="2.2" />
<line x1="1348.6" y1="2391.0" x2="1348.6" y2="2379.0" stroke="#000" stroke-width="2.2" />
<line x1="1418.5" y1="1503.0" x2="1418.5" y2="1509.0" stroke="#000" stroke-width="2.2" />
<line x1="1418.5" y1="1680.6" x2="1418.5" y2="1674.6" stroke="#000" stroke-width="2.2" />
<line x1="1418.5" y1="1858.2" x2="1418.5" y2="1852.2" stroke="#000" stroke-width="2.2" />
<line x1="1418.5" y1="2035.8" x2="1418.5" y2="2029.8" stroke="#000" stroke-width="2.2" />
<line x1="1418.5" y1="2213.4" x2="1418.5" y2="2207.4" stroke="#000" stroke-width="2.2" />
<line x1="1418.5" y1="2391.0" x2="1418.5" y2="2385.0" stroke="#000" stroke-width="2.2" />
<line x1="1488.4" y1="1503.0" x2="1488.4" y2="1515.0" stroke="#000" stroke-width="2.2" />
<line x1="1488.4" y1="1680.6" x2="1488.4" y2="1668.6" stroke="#000" stroke-width="2.2" />
<line x1="1488.4" y1="1858.2" x2="1488.4" y2="1846.2" stroke="#000" stroke-width="2.2" />
<line x1="1488.4" y1="2035.8" x2="1488.4" y2="2023.8" stroke="#000" stroke-width="2.2" />
<line x1="1488.4" y1="2213.4" x2="1488.4" y2="2201.4" stroke="#000" stroke-width="2.2" />
<line x1="1488.4" y1="2391.0" x2="1488.4" y2="2379.0" stroke="#000" stroke-width="2.2" />
<line x1="1558.3" y1="1503.0" x2="1558.3" y2="1509.0" stroke="#000" stroke-width="2.2" />
<line x1="1558.3" y1="1680.6" x2="1558.3" y2="1674.6" stroke="#000" stroke-width="2.2" />
<line x1="1558.3" y1="1858.2" x2="1558.3" y2="1852.2" stroke="#000" stroke-width="2.2" />
<line x1="1558.3" y1="2035.8" x2="1558.3" y2="2029.8" stroke="#000" stroke-width="2.2" />
<line x1="1558.3" y1="2213.4" x2="1558.3" y2="2207.4" stroke="#000" stroke-width="2.2" />
<line x1="1558.3" y1="2391.0" x2="1558.3" y2="2385.0" stroke="#000" stroke-width="2.2" />
<line x1="929.2" y1="1525.5" x2="935.2" y2="1525.5" stroke="#000" stroke-width="2.2" />
<line x1="1628.2" y1="1525.5" x2="1622.2" y2="1525.5" stroke="#000" stroke-width="2.2" />
<line x1="929.2" y1="1547.8" x2="941.2" y2="1547.8" stroke="#000" stroke-width="2.2" />
<line x1="1628.2" y1="1547.8" x2="1616.2" y2="1547.8" stroke="#000" stroke-width="2.2" />
<line x1="929.2" y1="1570.1" x2="935.2" y2="1570.1" stroke="#000" stroke-width="2.2" />
<line x1="1628.2" y1="1570.1" x2="1622.2" y2="1570.1" stroke="#000" stroke-width="2.2" />
<line x1="929.2" y1="1592.4" x2="941.2" y2="1592.4" stroke="#000" stroke-width="2.2" />
<line x1="1628.2" y1="1592.4" x2="1616.2" y2="1592.4" stroke="#000" stroke-width="2.2" />
<line x1="929.2" y1="1614.7" x2="935.2" y2="1614.7" stroke="#000" stroke-width="2.2" />
<line x1="1628.2" y1="1614.7" x2="1622.2" y2="1614.7" stroke="#000" stroke-width="2.2" />
<line x1="929.2" y1="1637.0" x2="941.2" y2="1637.0" stroke="#000" stroke-width="2.2" />
<line x1="1628.2" y1="1637.0" x2="1616.2" y2="1637.0" stroke="#000" stroke-width="2.2" />
<line x1="929.2" y1="1659.3" x2="935.2" y2="1659.3" stroke="#000" stroke-width="2.2" />
<line x1="1628.2" y1="1659.3" x2="1622.2" y2="1659.3" stroke="#000" stroke-width="2.2" />
<line x1="929.2" y1="1703.1" x2="935.2" y2="1703.1" stroke="#000" stroke-width="2.2" />
<line x1="1628.2" y1="1703.1" x2="1622.2" y2="1703.1" stroke="#000" stroke-width="2.2" />
<line x1="929.2" y1="1725.4" x2="941.2" y2="1725.4" stroke="#000" stroke-width="2.2" />
<line x1="1628.2" y1="1725.4" x2="1616.2" y2="1725.4" stroke="#000" stroke-width="2.2" />
<line x1="929.2" y1="1747.7" x2="935.2" y2="1747.7" stroke="#000" stroke-width="2.2" />
<line x1="1628.2" y1="1747.7" x2="1622.2" y2="1747.7" stroke="#000" stroke-width="2.2" />
<line x1="929.2" y1="1770.0" x2="941.2" y2="1770.0" stroke="#000" stroke-width="2.2" />
<line x1="1628.2" y1="1770.0" x2="1616.2" y2="1770.0" stroke="#000" stroke-width="2.2" />
<line x1="929.2" y1="1792.3" x2="935.2" y2="1792.3" stroke="#000" stroke-width="2.2" />
<line x1="1628.2" y1="1792.3" x2="1622.2" y2="1792.3" stroke="#000" stroke-width="2.2" />
<line x1="929.2" y1="1814.6" x2="941.2" y2="1814.6" stroke="#000" stroke-width="2.2" />
<line x1="1628.2" y1="1814.6" x2="1616.2" y2="1814.6" stroke="#000" stroke-width="2.2" />
<line x1="929.2" y1="1836.9" x2="935.2" y2="1836.9" stroke="#000" stroke-width="2.2" />
<line x1="1628.2" y1="1836.9" x2="1622.2" y2="1836.9" stroke="#000" stroke-width="2.2" />
<line x1="929.2" y1="1880.7" x2="935.2" y2="1880.7" stroke="#000" stroke-width="2.2" />
<line x1="1628.2" y1="1880.7" x2="1622.2" y2="1880.7" stroke="#000" stroke-width="2.2" />
<line x1="929.2" y1="1903.0" x2="941.2" y2="1903.0" stroke="#000" stroke-width="2.2" />
<line x1="1628.2" y1="1903.0" x2="1616.2" y2="1903.0" stroke="#000" stroke-width="2.2" />
<line x1="929.2" y1="1925.3" x2="935.2" y2="1925.3" stroke="#000" stroke-width="2.2" />
<line x1="1628.2" y1="1925.3" x2="1622.2" y2="1925.3" stroke="#000" stroke-width="2.2" />
<line x1="929.2" y1="1947.6" x2="941.2" y2="1947.6" stroke="#000" stroke-width="2.2" />
<line x1="1628.2" y1="1947.6" x2="1616.2" y2="1947.6" stroke="#000" stroke-width="2.2" />
<line x1="929.2" y1="1969.9" x2="935.2" y2="1969.9" stroke="#000" stroke-width="2.2" />
<line x1="1628.2" y1="1969.9" x2="1622.2" y2="1969.9" stroke="#000" stroke-width="2.2" />
<line x1="929.2" y1="1992.2" x2="941.2" y2="1992.2" stroke="#000" stroke-width="2.2" />
<line x1="1628.2" y1="1992.2" x2="1616.2" y2="1992.2" stroke="#000" stroke-width="2.2" />
<line x1="929.2" y1="2014.5" x2="935.2" y2="2014.5" stroke="#000" stroke-width="2.2" />
<line x1="1628.2" y1="2014.5" x2="1622.2" y2="2014.5" stroke="#000" stroke-width="2.2" />
<line x1="929.2" y1="2058.3" x2="935.2" y2="2058.3" stroke="#000" stroke-width="2.2" />
<line x1="1628.2" y1="2058.3" x2="1622.2" y2="2058.3" stroke="#000" stroke-width="2.2" />
<line x1="929.2" y1="2080.6" x2="941.2" y2="2080.6" stroke="#000" stroke-width="2.2" />
<line x1="1628.2" y1="2080.6" x2="1616.2" y2="2080.6" stroke="#000" stroke-width="2.2" />
<line x1="929.2" y1="2102.9" x2="935.2" y2="2102.9" stroke="#000" stroke-width="2.2" />
<line x1="1628.2" y1="2102.9" x2="1622.2" y2="2102.9" stroke="#000" stroke-width="2.2" />
<line x1="929.2" y1="2125.2" x2="941.2" y2="2125.2" stroke="#000" stroke-width="2.2" />
<line x1="1628.2" y1="2125.2" x2="1616.2" y2="2125.2" stroke="#000" stroke-width="2.2" />
<line x1="929.2" y1="2147.5" x2="935.2" y2="2147.5" stroke="#000" stroke-width="2.2" />
<line x1="1628.2" y1="2147.5" x2="1622.2" y2="2147.5" stroke="#000" stroke-width="2.2" />
<line x1="929.2" y1="2169.8" x2="941.2" y2="2169.8" stroke="#000" stroke-width="2.2" />
<line x1="1628.2" y1="2169.8" x2="1616.2" y2="2169.8" stroke="#000" stroke-width="2.2" />
<line x1="929.2" y1="2192.1" x2="935.2" y2="2192.1" stroke="#000" stroke-width="2.2" />
<line x1="1628.2" y1="2192.1" x2="1622.2" y2="2192.1" stroke="#000" stroke-width="2.2" />
<line x1="929.2" y1="2235.9" x2="935.2" y2="2235.9" stroke="#000" stroke-width="2.2" />
<line x1="1628.2" y1="2235.9" x2="1622.2" y2="2235.9" stroke="#000" stroke-width="2.2" />
<line x1="929.2" y1="2258.2" x2="941.2" y2="2258.2" stroke="#000" stroke-width="2.2" />
<line x1="1628.2" y1="2258.2" x2="1616.2" y2="2258.2" stroke="#000" stroke-width="2.2" />
<line x1="929.2" y1="2280.5" x2="935.2" y2="2280.5" stroke="#000" stroke-width="2.2" />
<line x1="1628.2" y1="2280.5" x2="1622.2" y2="2280.5" stroke="#000" stroke-width="2.2" />
<line x1="929.2" y1="2302.8" x2="941.2" y2="2302.8" stroke="#000" stroke-width="2.2" />
<line x1="1628.2" y1="2302.8" x2="1616.2" y2="2302.8" stroke="#000" stroke-width="2.2" />
<line x1="929.2" y1="2325.1" x2="935.2" y2="2325.1" stroke="#000" stroke-width="2.2" />
<line x1="1628.2" y1="2325.1" x2="1622.2" y2="2325.1" stroke="#000" stroke-width="2.2" />
<line x1="929.2" y1="2347.4" x2="941.2" y2="2347.4" stroke="#000" stroke-width="2.2" />
<line x1="1628.2" y1="2347.4" x2="1616.2" y2="2347.4" stroke="#000" stroke-width="2.2" />
<line x1="929.2" y1="2369.7" x2="935.2" y2="2369.7" stroke="#000" stroke-width="2.2" />
<line x1="1628.2" y1="2369.7" x2="1622.2" y2="2369.7" stroke="#000" stroke-width="2.2" />
<line x1="1394.3" y1="1549.3" x2="1477.6" y2="1549.3" stroke="#9b3cff" stroke-width="3.6" />
<line x1="1418.2" y1="1715.9" x2="1500.9" y2="1715.9" stroke="#1f9e1f" stroke-width="3.6" />
<line x1="1416.8" y1="1892.2" x2="1499.5" y2="1892.2" stroke="#0c1a9e" stroke-width="3.6" />
<line x1="1416.8" y1="2167.8" x2="1499.5" y2="2167.8" stroke="#ff1e1e" stroke-width="3.6" />
<line x1="1335.2" y1="2338.3" x2="1418.2" y2="2338.3" stroke="#111111" stroke-width="3.6" />
<rect x="1208.8" y="1501.7" width="139.8" height="890.6" fill="#a7f4e9" fill-opacity="0.45"/>
<text x="1487.3" y="1561.7" font-family="'Liberation Sans', Arial, sans-serif" font-size="35.5" font-weight="bold" fill="#000" text-anchor="start" >10-rGO</text>
<text x="1509.5" y="1728.8" font-family="'Liberation Sans', Arial, sans-serif" font-size="35.5" font-weight="bold" fill="#000" text-anchor="start" >9-rGO</text>
<text x="1508.1" y="1906.0" font-family="'Liberation Sans', Arial, sans-serif" font-size="35.5" font-weight="bold" fill="#000" text-anchor="start" >8-rGO</text>
<text x="1508.1" y="2180.6" font-family="'Liberation Sans', Arial, sans-serif" font-size="35.5" font-weight="bold" fill="#000" text-anchor="start" >7-rGO</text>
<text x="1426.9" y="2351.0" font-family="'Liberation Sans', Arial, sans-serif" font-size="35.5" font-weight="bold" fill="#000" text-anchor="start" >MAI: PbCl<tspan font-size="22" dy="8">2</tspan></text>
<text x="1176.9" y="1488.7" font-family="'Liberation Sans', Arial, sans-serif" font-size="36.2" font-weight="normal" fill="#000" stroke="#000" stroke-width="0.55" text-anchor="start" >O-H bonding</text>
<text x="825.1" y="1571.7" font-family="'Liberation Serif', 'Times New Roman', serif" font-size="59" font-weight="normal" fill="#000" text-anchor="start" >(c)</text>
<text x="929.2" y="2430.0" font-family="'Liberation Sans', Arial, sans-serif" font-size="30" font-weight="normal" fill="#000" stroke="#000" stroke-width="0.55" text-anchor="middle" >3500</text>
<text x="1069.0" y="2430.0" font-family="'Liberation Sans', Arial, sans-serif" font-size="30" font-weight="normal" fill="#000" stroke="#000" stroke-width="0.55" text-anchor="middle" >3600</text>
<text x="1208.8" y="2430.0" font-family="'Liberation Sans', Arial, sans-serif" font-size="30" font-weight="normal" fill="#000" stroke="#000" stroke-width="0.55" text-anchor="middle" >3700</text>
<text x="1348.6" y="2430.0" font-family="'Liberation Sans', Arial, sans-serif" font-size="30" font-weight="normal" fill="#000" stroke="#000" stroke-width="0.55" text-anchor="middle" >3800</text>
<text x="1488.4" y="2430.0" font-family="'Liberation Sans', Arial, sans-serif" font-size="30" font-weight="normal" fill="#000" stroke="#000" stroke-width="0.55" text-anchor="middle" >3900</text>
<text x="1628.2" y="2430.0" font-family="'Liberation Sans', Arial, sans-serif" font-size="30" font-weight="normal" fill="#000" stroke="#000" stroke-width="0.55" text-anchor="middle" >4000</text>
<text x="1126.3" y="2488.0" font-family="'Liberation Sans', Arial, sans-serif" font-size="35.6" font-weight="normal" fill="#000" stroke="#000" stroke-width="0.55" text-anchor="start" >Wavenumber(cm<tspan font-size="24" dy="-15">-1</tspan><tspan dy="15">)</tspan></text>
<text transform="translate(888.8,2173) rotate(-90)" font-family="'Liberation Sans', Arial, sans-serif" font-size="36.2" fill="#000" stroke="#000" stroke-width="0.55">Relative Transmission (a.u.)</text>
</svg></body></html>
